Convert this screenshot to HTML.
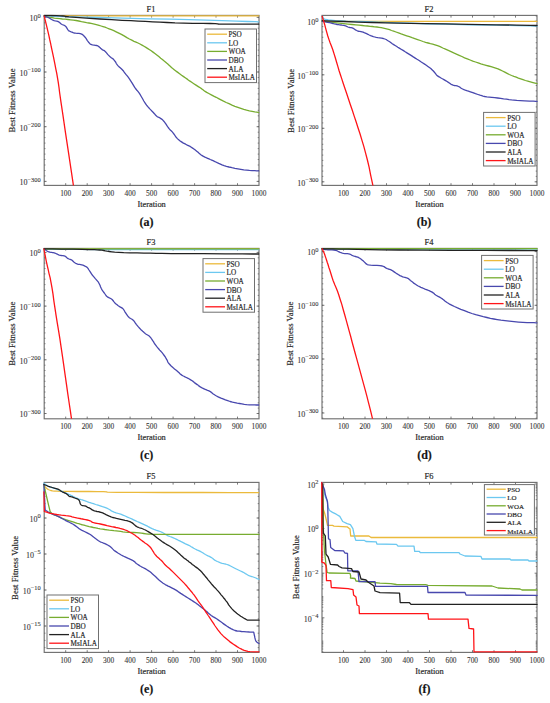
<!DOCTYPE html>
<html><head><meta charset="utf-8"><style>
html,body{margin:0;padding:0;background:#fff;}
svg{display:block;font-family:"Liberation Serif", serif;}
text{stroke:#333;stroke-width:0.18px;}
</style></head><body>
<svg width="550" height="703" viewBox="0 0 550 703">
<rect width="550" height="703" fill="#fff"/>
<defs>
<clipPath id="c00"><rect x="43.2" y="14.4" width="216.8" height="171.0"/></clipPath>
<clipPath id="c10"><rect x="43.2" y="247.4" width="216.8" height="171.4"/></clipPath>
<clipPath id="c20"><rect x="43.2" y="481.4" width="216.8" height="171.0"/></clipPath>
<clipPath id="c01"><rect x="321.0" y="14.4" width="217.0" height="171.0"/></clipPath>
<clipPath id="c11"><rect x="321.0" y="247.4" width="217.0" height="171.4"/></clipPath>
<clipPath id="c21"><rect x="321.0" y="481.4" width="217.0" height="171.0"/></clipPath>
</defs>
<rect x="44.2" y="15.4" width="214.80" height="170.00" fill="none" stroke="#707070" stroke-width="1.15"/>
<line x1="65.7" y1="185.4" x2="65.7" y2="183.2" stroke="#5a5a5a" stroke-width="0.8"/>
<line x1="65.7" y1="15.4" x2="65.7" y2="17.6" stroke="#5a5a5a" stroke-width="0.8"/>
<line x1="87.2" y1="185.4" x2="87.2" y2="183.2" stroke="#5a5a5a" stroke-width="0.8"/>
<line x1="87.2" y1="15.4" x2="87.2" y2="17.6" stroke="#5a5a5a" stroke-width="0.8"/>
<line x1="108.6" y1="185.4" x2="108.6" y2="183.2" stroke="#5a5a5a" stroke-width="0.8"/>
<line x1="108.6" y1="15.4" x2="108.6" y2="17.6" stroke="#5a5a5a" stroke-width="0.8"/>
<line x1="130.1" y1="185.4" x2="130.1" y2="183.2" stroke="#5a5a5a" stroke-width="0.8"/>
<line x1="130.1" y1="15.4" x2="130.1" y2="17.6" stroke="#5a5a5a" stroke-width="0.8"/>
<line x1="151.6" y1="185.4" x2="151.6" y2="183.2" stroke="#5a5a5a" stroke-width="0.8"/>
<line x1="151.6" y1="15.4" x2="151.6" y2="17.6" stroke="#5a5a5a" stroke-width="0.8"/>
<line x1="173.1" y1="185.4" x2="173.1" y2="183.2" stroke="#5a5a5a" stroke-width="0.8"/>
<line x1="173.1" y1="15.4" x2="173.1" y2="17.6" stroke="#5a5a5a" stroke-width="0.8"/>
<line x1="194.6" y1="185.4" x2="194.6" y2="183.2" stroke="#5a5a5a" stroke-width="0.8"/>
<line x1="194.6" y1="15.4" x2="194.6" y2="17.6" stroke="#5a5a5a" stroke-width="0.8"/>
<line x1="216.0" y1="185.4" x2="216.0" y2="183.2" stroke="#5a5a5a" stroke-width="0.8"/>
<line x1="216.0" y1="15.4" x2="216.0" y2="17.6" stroke="#5a5a5a" stroke-width="0.8"/>
<line x1="237.5" y1="185.4" x2="237.5" y2="183.2" stroke="#5a5a5a" stroke-width="0.8"/>
<line x1="237.5" y1="15.4" x2="237.5" y2="17.6" stroke="#5a5a5a" stroke-width="0.8"/>
<text x="65.7" y="195.6" font-size="7.4" text-anchor="middle" font-weight="normal" fill="#3a3a3a" style="stroke-width:0.1px">100</text>
<text x="87.2" y="195.6" font-size="7.4" text-anchor="middle" font-weight="normal" fill="#3a3a3a" style="stroke-width:0.1px">200</text>
<text x="108.6" y="195.6" font-size="7.4" text-anchor="middle" font-weight="normal" fill="#3a3a3a" style="stroke-width:0.1px">300</text>
<text x="130.1" y="195.6" font-size="7.4" text-anchor="middle" font-weight="normal" fill="#3a3a3a" style="stroke-width:0.1px">400</text>
<text x="151.6" y="195.6" font-size="7.4" text-anchor="middle" font-weight="normal" fill="#3a3a3a" style="stroke-width:0.1px">500</text>
<text x="173.1" y="195.6" font-size="7.4" text-anchor="middle" font-weight="normal" fill="#3a3a3a" style="stroke-width:0.1px">600</text>
<text x="194.6" y="195.6" font-size="7.4" text-anchor="middle" font-weight="normal" fill="#3a3a3a" style="stroke-width:0.1px">700</text>
<text x="216.0" y="195.6" font-size="7.4" text-anchor="middle" font-weight="normal" fill="#3a3a3a" style="stroke-width:0.1px">800</text>
<text x="237.5" y="195.6" font-size="7.4" text-anchor="middle" font-weight="normal" fill="#3a3a3a" style="stroke-width:0.1px">900</text>
<text x="259.0" y="195.6" font-size="7.4" text-anchor="middle" font-weight="normal" fill="#3a3a3a" style="stroke-width:0.1px">1000</text>
<text x="151.6" y="206.6" font-size="8.4" text-anchor="middle" font-weight="normal" fill="#222" >Iteration</text>
<text x="151.0" y="12.0" font-size="8.4" text-anchor="middle" font-weight="normal" fill="#222" >F1</text>
<text x="146.6" y="225.8" font-size="12" text-anchor="middle" font-weight="bold" fill="#111" >(a)</text>
<line x1="44.2" y1="17.3" x2="45.5" y2="17.3" stroke="#5a5a5a" stroke-width="0.7"/>
<line x1="259.0" y1="17.3" x2="257.7" y2="17.3" stroke="#5a5a5a" stroke-width="0.7"/>
<line x1="44.2" y1="22.8" x2="45.5" y2="22.8" stroke="#5a5a5a" stroke-width="0.7"/>
<line x1="259.0" y1="22.8" x2="257.7" y2="22.8" stroke="#5a5a5a" stroke-width="0.7"/>
<line x1="44.2" y1="28.2" x2="45.5" y2="28.2" stroke="#5a5a5a" stroke-width="0.7"/>
<line x1="259.0" y1="28.2" x2="257.7" y2="28.2" stroke="#5a5a5a" stroke-width="0.7"/>
<line x1="44.2" y1="33.7" x2="45.5" y2="33.7" stroke="#5a5a5a" stroke-width="0.7"/>
<line x1="259.0" y1="33.7" x2="257.7" y2="33.7" stroke="#5a5a5a" stroke-width="0.7"/>
<line x1="44.2" y1="39.2" x2="45.5" y2="39.2" stroke="#5a5a5a" stroke-width="0.7"/>
<line x1="259.0" y1="39.2" x2="257.7" y2="39.2" stroke="#5a5a5a" stroke-width="0.7"/>
<line x1="44.2" y1="44.6" x2="45.5" y2="44.6" stroke="#5a5a5a" stroke-width="0.7"/>
<line x1="259.0" y1="44.6" x2="257.7" y2="44.6" stroke="#5a5a5a" stroke-width="0.7"/>
<line x1="44.2" y1="50.1" x2="45.5" y2="50.1" stroke="#5a5a5a" stroke-width="0.7"/>
<line x1="259.0" y1="50.1" x2="257.7" y2="50.1" stroke="#5a5a5a" stroke-width="0.7"/>
<line x1="44.2" y1="55.6" x2="45.5" y2="55.6" stroke="#5a5a5a" stroke-width="0.7"/>
<line x1="259.0" y1="55.6" x2="257.7" y2="55.6" stroke="#5a5a5a" stroke-width="0.7"/>
<line x1="44.2" y1="61.1" x2="45.5" y2="61.1" stroke="#5a5a5a" stroke-width="0.7"/>
<line x1="259.0" y1="61.1" x2="257.7" y2="61.1" stroke="#5a5a5a" stroke-width="0.7"/>
<line x1="44.2" y1="66.5" x2="45.5" y2="66.5" stroke="#5a5a5a" stroke-width="0.7"/>
<line x1="259.0" y1="66.5" x2="257.7" y2="66.5" stroke="#5a5a5a" stroke-width="0.7"/>
<line x1="44.2" y1="72.0" x2="45.5" y2="72.0" stroke="#5a5a5a" stroke-width="0.7"/>
<line x1="259.0" y1="72.0" x2="257.7" y2="72.0" stroke="#5a5a5a" stroke-width="0.7"/>
<line x1="44.2" y1="77.5" x2="45.5" y2="77.5" stroke="#5a5a5a" stroke-width="0.7"/>
<line x1="259.0" y1="77.5" x2="257.7" y2="77.5" stroke="#5a5a5a" stroke-width="0.7"/>
<line x1="44.2" y1="82.9" x2="45.5" y2="82.9" stroke="#5a5a5a" stroke-width="0.7"/>
<line x1="259.0" y1="82.9" x2="257.7" y2="82.9" stroke="#5a5a5a" stroke-width="0.7"/>
<line x1="44.2" y1="88.4" x2="45.5" y2="88.4" stroke="#5a5a5a" stroke-width="0.7"/>
<line x1="259.0" y1="88.4" x2="257.7" y2="88.4" stroke="#5a5a5a" stroke-width="0.7"/>
<line x1="44.2" y1="93.9" x2="45.5" y2="93.9" stroke="#5a5a5a" stroke-width="0.7"/>
<line x1="259.0" y1="93.9" x2="257.7" y2="93.9" stroke="#5a5a5a" stroke-width="0.7"/>
<line x1="44.2" y1="99.3" x2="45.5" y2="99.3" stroke="#5a5a5a" stroke-width="0.7"/>
<line x1="259.0" y1="99.3" x2="257.7" y2="99.3" stroke="#5a5a5a" stroke-width="0.7"/>
<line x1="44.2" y1="104.8" x2="45.5" y2="104.8" stroke="#5a5a5a" stroke-width="0.7"/>
<line x1="259.0" y1="104.8" x2="257.7" y2="104.8" stroke="#5a5a5a" stroke-width="0.7"/>
<line x1="44.2" y1="110.3" x2="45.5" y2="110.3" stroke="#5a5a5a" stroke-width="0.7"/>
<line x1="259.0" y1="110.3" x2="257.7" y2="110.3" stroke="#5a5a5a" stroke-width="0.7"/>
<line x1="44.2" y1="115.8" x2="45.5" y2="115.8" stroke="#5a5a5a" stroke-width="0.7"/>
<line x1="259.0" y1="115.8" x2="257.7" y2="115.8" stroke="#5a5a5a" stroke-width="0.7"/>
<line x1="44.2" y1="121.2" x2="45.5" y2="121.2" stroke="#5a5a5a" stroke-width="0.7"/>
<line x1="259.0" y1="121.2" x2="257.7" y2="121.2" stroke="#5a5a5a" stroke-width="0.7"/>
<line x1="44.2" y1="126.7" x2="45.5" y2="126.7" stroke="#5a5a5a" stroke-width="0.7"/>
<line x1="259.0" y1="126.7" x2="257.7" y2="126.7" stroke="#5a5a5a" stroke-width="0.7"/>
<line x1="44.2" y1="132.2" x2="45.5" y2="132.2" stroke="#5a5a5a" stroke-width="0.7"/>
<line x1="259.0" y1="132.2" x2="257.7" y2="132.2" stroke="#5a5a5a" stroke-width="0.7"/>
<line x1="44.2" y1="137.6" x2="45.5" y2="137.6" stroke="#5a5a5a" stroke-width="0.7"/>
<line x1="259.0" y1="137.6" x2="257.7" y2="137.6" stroke="#5a5a5a" stroke-width="0.7"/>
<line x1="44.2" y1="143.1" x2="45.5" y2="143.1" stroke="#5a5a5a" stroke-width="0.7"/>
<line x1="259.0" y1="143.1" x2="257.7" y2="143.1" stroke="#5a5a5a" stroke-width="0.7"/>
<line x1="44.2" y1="148.6" x2="45.5" y2="148.6" stroke="#5a5a5a" stroke-width="0.7"/>
<line x1="259.0" y1="148.6" x2="257.7" y2="148.6" stroke="#5a5a5a" stroke-width="0.7"/>
<line x1="44.2" y1="154.1" x2="45.5" y2="154.1" stroke="#5a5a5a" stroke-width="0.7"/>
<line x1="259.0" y1="154.1" x2="257.7" y2="154.1" stroke="#5a5a5a" stroke-width="0.7"/>
<line x1="44.2" y1="159.5" x2="45.5" y2="159.5" stroke="#5a5a5a" stroke-width="0.7"/>
<line x1="259.0" y1="159.5" x2="257.7" y2="159.5" stroke="#5a5a5a" stroke-width="0.7"/>
<line x1="44.2" y1="165.0" x2="45.5" y2="165.0" stroke="#5a5a5a" stroke-width="0.7"/>
<line x1="259.0" y1="165.0" x2="257.7" y2="165.0" stroke="#5a5a5a" stroke-width="0.7"/>
<line x1="44.2" y1="170.5" x2="45.5" y2="170.5" stroke="#5a5a5a" stroke-width="0.7"/>
<line x1="259.0" y1="170.5" x2="257.7" y2="170.5" stroke="#5a5a5a" stroke-width="0.7"/>
<line x1="44.2" y1="175.9" x2="45.5" y2="175.9" stroke="#5a5a5a" stroke-width="0.7"/>
<line x1="259.0" y1="175.9" x2="257.7" y2="175.9" stroke="#5a5a5a" stroke-width="0.7"/>
<line x1="44.2" y1="181.4" x2="45.5" y2="181.4" stroke="#5a5a5a" stroke-width="0.7"/>
<line x1="259.0" y1="181.4" x2="257.7" y2="181.4" stroke="#5a5a5a" stroke-width="0.7"/>
<line x1="44.2" y1="17.3" x2="46.6" y2="17.3" stroke="#5a5a5a" stroke-width="0.8"/>
<line x1="259.0" y1="17.3" x2="256.6" y2="17.3" stroke="#5a5a5a" stroke-width="0.8"/>
<text x="40.7" y="21.1" font-size="8" text-anchor="end" fill="#3a3a3a" style="stroke-width:0.1px">10<tspan font-size="6.4" dy="-3.4">0</tspan></text>
<line x1="44.2" y1="72.0" x2="46.6" y2="72.0" stroke="#5a5a5a" stroke-width="0.8"/>
<line x1="259.0" y1="72.0" x2="256.6" y2="72.0" stroke="#5a5a5a" stroke-width="0.8"/>
<text x="40.7" y="75.8" font-size="8" text-anchor="end" fill="#3a3a3a" style="stroke-width:0.1px">10<tspan font-size="6.4" dy="-3.4">−100</tspan></text>
<line x1="44.2" y1="126.7" x2="46.6" y2="126.7" stroke="#5a5a5a" stroke-width="0.8"/>
<line x1="259.0" y1="126.7" x2="256.6" y2="126.7" stroke="#5a5a5a" stroke-width="0.8"/>
<text x="40.7" y="130.5" font-size="8" text-anchor="end" fill="#3a3a3a" style="stroke-width:0.1px">10<tspan font-size="6.4" dy="-3.4">−200</tspan></text>
<line x1="44.2" y1="181.4" x2="46.6" y2="181.4" stroke="#5a5a5a" stroke-width="0.8"/>
<line x1="259.0" y1="181.4" x2="256.6" y2="181.4" stroke="#5a5a5a" stroke-width="0.8"/>
<text x="40.7" y="185.2" font-size="8" text-anchor="end" fill="#3a3a3a" style="stroke-width:0.1px">10<tspan font-size="6.4" dy="-3.4">−300</tspan></text>
<g clip-path="url(#c00)">
<polyline points="44.2,15.8 57.6,15.8 84.4,15.8 124.6,15.8 178.3,15.8 218.5,15.8 245.3,15.8 258.7,15.8" fill="none" stroke="#EBBA3C" stroke-width="1.3" stroke-linejoin="round" stroke-linecap="round"/>
<polyline points="44.2,16.0 45.4,16.0 47.9,16.1 51.5,16.2 56.5,16.4 63.6,16.6 73.1,16.8 84.9,17.1 98.9,17.5 114.5,17.9 131.5,18.3 150.0,18.8 170.0,19.2 188.7,19.7 206.0,20.2 222.0,20.7 236.7,21.1 247.7,21.5 255.0,21.7 258.7,21.8" fill="none" stroke="#6CC8F0" stroke-width="1.3" stroke-linejoin="round" stroke-linecap="round"/>
<polyline points="44.2,16.1 44.7,16.2 45.8,16.5 47.5,16.8 49.6,17.3 51.9,17.7 54.4,18.1 57.0,18.4 59.7,18.7 62.4,19.0 65.2,19.2 67.9,19.5 70.6,19.8 73.3,20.1 76.1,20.5 78.8,21.0 81.5,21.6 84.1,22.1 86.6,22.6 88.9,23.0 91.1,23.4 93.2,23.8 95.3,24.3 97.2,24.8 99.1,25.4 101.1,26.0 103.0,26.6 105.0,27.2 107.0,28.0 109.1,28.8 111.4,29.7 113.8,30.7 116.2,31.8 118.8,33.1 121.4,34.4 124.1,35.9 126.9,37.6 129.4,39.0 131.8,40.2 134.0,41.3 136.0,42.1 138.0,43.0 140.0,44.0 142.0,45.1 144.0,46.3 145.9,47.4 147.8,48.6 149.6,49.7 151.2,50.8 153.0,52.1 154.9,53.5 156.8,55.0 158.8,56.6 160.7,58.2 162.4,59.5 163.9,60.8 165.4,62.0 166.6,63.1 167.8,64.1 168.8,65.0 169.7,65.8 170.7,66.7 171.8,67.7 173.1,68.8 174.5,69.9 176.0,71.1 177.8,72.4 179.6,73.7 181.6,75.2 183.6,76.6 185.6,78.0 187.6,79.4 189.6,80.9 191.7,82.3 193.8,83.7 196.0,85.1 198.3,86.6 200.2,87.8 201.8,88.9 203.0,89.8 203.8,90.5 205.1,91.4 206.7,92.4 208.8,93.5 211.3,94.8 213.7,96.1 216.2,97.3 218.6,98.6 221.0,99.9 223.5,101.2 226.2,102.5 229.0,103.7 232.0,105.1 234.9,106.3 237.9,107.4 240.8,108.4 243.8,109.4 246.6,110.2 249.4,110.9 252.1,111.4 254.8,111.9 256.7,112.2 258.0,112.4 258.7,112.5" fill="none" stroke="#77AC30" stroke-width="1.3" stroke-linejoin="round" stroke-linecap="round"/>
<polyline points="44.2,16.1 44.5,16.2 45.0,16.4 45.8,16.6 46.9,17.0 48.0,17.4 49.2,18.0 50.4,18.7 51.6,19.5 52.9,20.1 54.1,20.6 55.3,20.9 56.6,21.1 57.7,21.4 58.7,21.9 59.6,22.5 60.4,23.3 61.2,24.0 62.1,24.5 63.1,24.9 64.0,25.2 64.9,25.7 65.8,26.5 66.5,27.4 67.2,28.7 67.8,29.6 68.4,30.4 69.0,30.9 69.6,31.2 70.3,31.5 71.1,31.9 72.0,32.2 73.1,32.7 74.3,33.0 75.7,33.2 77.2,33.3 78.8,33.3 80.3,33.6 81.7,34.1 82.9,34.9 84.0,36.0 85.1,37.2 86.2,38.7 87.2,40.3 88.4,42.0 89.6,43.4 90.9,44.4 92.4,44.9 94.1,45.1 95.4,45.3 96.5,45.5 97.3,45.7 97.9,46.0 98.5,46.4 99.2,46.9 99.9,47.6 100.8,48.4 101.6,49.1 102.3,49.6 103.1,50.1 103.7,50.3 104.6,50.9 105.5,51.8 106.5,52.9 107.7,54.4 108.9,55.6 110.1,56.8 111.3,57.8 112.6,58.6 113.7,59.6 114.7,60.8 115.6,62.0 116.3,63.5 117.1,64.7 118.1,65.9 119.1,66.9 120.2,67.7 121.3,68.7 122.3,69.7 123.2,70.7 124.0,71.9 124.9,73.1 125.9,74.4 127.0,75.7 128.2,77.2 129.4,78.8 130.7,80.8 132.0,82.9 133.5,85.4 134.7,87.4 135.9,89.0 136.9,90.3 137.7,91.1 138.7,92.4 139.9,94.1 141.1,96.2 142.6,98.8 143.8,101.0 145.0,102.8 146.0,104.3 146.8,105.5 147.8,106.6 148.8,107.8 149.8,108.9 151.0,110.1 152.1,111.3 153.3,112.5 154.4,113.7 155.5,115.0 156.5,116.0 157.4,116.7 158.2,117.2 158.9,117.4 159.8,117.8 160.6,118.4 161.6,119.1 162.8,120.1 163.8,121.2 164.9,122.6 166.0,124.2 167.1,125.9 168.2,127.5 169.3,128.9 170.3,130.1 171.4,131.0 172.5,132.1 173.4,133.3 174.3,134.5 175.2,135.9 176.1,137.2 177.2,138.4 178.4,139.6 179.8,140.7 181.1,141.6 182.3,142.4 183.4,143.1 184.6,143.7 185.6,144.2 186.7,144.8 187.8,145.3 188.9,145.8 190.0,146.4 191.3,147.2 192.6,148.1 193.9,149.0 195.3,150.1 196.7,151.2 198.1,152.3 199.4,153.6 200.8,154.7 202.2,155.6 203.5,156.4 204.9,157.1 206.2,157.7 207.6,158.3 209.0,158.9 210.3,159.5 211.7,160.1 213.1,160.7 214.4,161.3 215.8,162.0 217.2,162.7 218.7,163.4 220.4,164.1 222.0,164.9 224.1,165.6 226.4,166.3 229.0,167.0 232.0,167.7 234.9,168.3 237.9,168.8 240.8,169.3 243.8,169.8 246.6,170.1 249.4,170.4 252.1,170.6 254.8,170.7 256.7,170.8 258.0,170.9 258.7,170.9" fill="none" stroke="#4848AE" stroke-width="1.3" stroke-linejoin="round" stroke-linecap="round"/>
<polyline points="44.2,15.3 45.4,15.3 47.9,15.4 51.5,15.5 56.5,15.6 60.3,15.8 63.0,16.0 64.6,16.2 65.2,16.5 69.0,16.9 76.0,17.4 86.2,18.1 99.8,19.0 111.7,19.7 122.1,20.3 130.9,20.7 138.1,21.1 145.4,21.4 152.6,21.8 159.9,22.2 167.1,22.5 175.0,22.9 183.6,23.1 192.8,23.3 202.7,23.4 210.2,23.5 215.2,23.7 217.9,23.8 218.1,24.0 220.8,24.1 226.0,24.2 233.6,24.2 243.6,24.2 251.2,24.2 256.2,24.2 258.7,24.2" fill="none" stroke="#222222" stroke-width="1.3" stroke-linejoin="round" stroke-linecap="round"/>
<polyline points="44.2,16.1 44.5,17.2 45.0,19.4 45.8,22.7 46.9,27.2 47.9,31.4 48.9,35.6 49.7,39.5 50.6,43.4 51.3,47.0 52.1,50.6 52.8,53.9 53.5,57.2 54.2,60.7 55.0,64.6 55.8,68.8 56.7,73.2 57.5,77.9 58.3,82.6 59.0,87.5 59.6,92.5 60.9,101.6 62.9,114.9 65.4,132.2 68.7,153.8 71.1,169.9 72.7,180.6 73.5,186.0" fill="none" stroke="#FF1418" stroke-width="1.3" stroke-linejoin="round" stroke-linecap="round"/>
</g>
<rect x="205" y="29" width="51.5" height="53.6" fill="#fff" stroke="#707070" stroke-width="1.0"/>
<line x1="207.2" y1="34.2" x2="227.0" y2="34.2" stroke="#EBBA3C" stroke-width="1.3"/>
<text x="228.6" y="37.1" font-size="7.2" fill="#222">PSO</text>
<line x1="207.2" y1="42.8" x2="227.0" y2="42.8" stroke="#6CC8F0" stroke-width="1.3"/>
<text x="228.6" y="45.7" font-size="7.2" fill="#222">LO</text>
<line x1="207.2" y1="51.4" x2="227.0" y2="51.4" stroke="#77AC30" stroke-width="1.3"/>
<text x="228.6" y="54.3" font-size="7.2" fill="#222">WOA</text>
<line x1="207.2" y1="60.0" x2="227.0" y2="60.0" stroke="#4848AE" stroke-width="1.3"/>
<text x="228.6" y="62.9" font-size="7.2" fill="#222">DBO</text>
<line x1="207.2" y1="68.6" x2="227.0" y2="68.6" stroke="#222222" stroke-width="1.3"/>
<text x="228.6" y="71.5" font-size="7.2" fill="#222">ALA</text>
<line x1="207.2" y1="77.2" x2="227.0" y2="77.2" stroke="#FF1418" stroke-width="1.3"/>
<text x="228.6" y="80.1" font-size="7.2" fill="#222">MsIALA</text>
<text transform="translate(14.9,100.5) rotate(-90)" font-size="8.7" text-anchor="middle" fill="#222">Best Fitness Value</text>
<rect x="322.0" y="15.4" width="215.00" height="170.00" fill="none" stroke="#707070" stroke-width="1.15"/>
<line x1="343.5" y1="185.4" x2="343.5" y2="183.2" stroke="#5a5a5a" stroke-width="0.8"/>
<line x1="343.5" y1="15.4" x2="343.5" y2="17.6" stroke="#5a5a5a" stroke-width="0.8"/>
<line x1="365.0" y1="185.4" x2="365.0" y2="183.2" stroke="#5a5a5a" stroke-width="0.8"/>
<line x1="365.0" y1="15.4" x2="365.0" y2="17.6" stroke="#5a5a5a" stroke-width="0.8"/>
<line x1="386.5" y1="185.4" x2="386.5" y2="183.2" stroke="#5a5a5a" stroke-width="0.8"/>
<line x1="386.5" y1="15.4" x2="386.5" y2="17.6" stroke="#5a5a5a" stroke-width="0.8"/>
<line x1="408.0" y1="185.4" x2="408.0" y2="183.2" stroke="#5a5a5a" stroke-width="0.8"/>
<line x1="408.0" y1="15.4" x2="408.0" y2="17.6" stroke="#5a5a5a" stroke-width="0.8"/>
<line x1="429.5" y1="185.4" x2="429.5" y2="183.2" stroke="#5a5a5a" stroke-width="0.8"/>
<line x1="429.5" y1="15.4" x2="429.5" y2="17.6" stroke="#5a5a5a" stroke-width="0.8"/>
<line x1="451.0" y1="185.4" x2="451.0" y2="183.2" stroke="#5a5a5a" stroke-width="0.8"/>
<line x1="451.0" y1="15.4" x2="451.0" y2="17.6" stroke="#5a5a5a" stroke-width="0.8"/>
<line x1="472.5" y1="185.4" x2="472.5" y2="183.2" stroke="#5a5a5a" stroke-width="0.8"/>
<line x1="472.5" y1="15.4" x2="472.5" y2="17.6" stroke="#5a5a5a" stroke-width="0.8"/>
<line x1="494.0" y1="185.4" x2="494.0" y2="183.2" stroke="#5a5a5a" stroke-width="0.8"/>
<line x1="494.0" y1="15.4" x2="494.0" y2="17.6" stroke="#5a5a5a" stroke-width="0.8"/>
<line x1="515.5" y1="185.4" x2="515.5" y2="183.2" stroke="#5a5a5a" stroke-width="0.8"/>
<line x1="515.5" y1="15.4" x2="515.5" y2="17.6" stroke="#5a5a5a" stroke-width="0.8"/>
<text x="343.5" y="195.6" font-size="7.4" text-anchor="middle" font-weight="normal" fill="#3a3a3a" style="stroke-width:0.1px">100</text>
<text x="365.0" y="195.6" font-size="7.4" text-anchor="middle" font-weight="normal" fill="#3a3a3a" style="stroke-width:0.1px">200</text>
<text x="386.5" y="195.6" font-size="7.4" text-anchor="middle" font-weight="normal" fill="#3a3a3a" style="stroke-width:0.1px">300</text>
<text x="408.0" y="195.6" font-size="7.4" text-anchor="middle" font-weight="normal" fill="#3a3a3a" style="stroke-width:0.1px">400</text>
<text x="429.5" y="195.6" font-size="7.4" text-anchor="middle" font-weight="normal" fill="#3a3a3a" style="stroke-width:0.1px">500</text>
<text x="451.0" y="195.6" font-size="7.4" text-anchor="middle" font-weight="normal" fill="#3a3a3a" style="stroke-width:0.1px">600</text>
<text x="472.5" y="195.6" font-size="7.4" text-anchor="middle" font-weight="normal" fill="#3a3a3a" style="stroke-width:0.1px">700</text>
<text x="494.0" y="195.6" font-size="7.4" text-anchor="middle" font-weight="normal" fill="#3a3a3a" style="stroke-width:0.1px">800</text>
<text x="515.5" y="195.6" font-size="7.4" text-anchor="middle" font-weight="normal" fill="#3a3a3a" style="stroke-width:0.1px">900</text>
<text x="537.0" y="195.6" font-size="7.4" text-anchor="middle" font-weight="normal" fill="#3a3a3a" style="stroke-width:0.1px">1000</text>
<text x="429.5" y="206.6" font-size="8.4" text-anchor="middle" font-weight="normal" fill="#222" >Iteration</text>
<text x="428.9" y="12.0" font-size="8.4" text-anchor="middle" font-weight="normal" fill="#222" >F2</text>
<text x="424.0" y="225.8" font-size="12" text-anchor="middle" font-weight="bold" fill="#111" >(b)</text>
<line x1="322.0" y1="16.0" x2="323.3" y2="16.0" stroke="#5a5a5a" stroke-width="0.7"/>
<line x1="537.0" y1="16.0" x2="535.7" y2="16.0" stroke="#5a5a5a" stroke-width="0.7"/>
<line x1="322.0" y1="21.3" x2="323.3" y2="21.3" stroke="#5a5a5a" stroke-width="0.7"/>
<line x1="537.0" y1="21.3" x2="535.7" y2="21.3" stroke="#5a5a5a" stroke-width="0.7"/>
<line x1="322.0" y1="26.6" x2="323.3" y2="26.6" stroke="#5a5a5a" stroke-width="0.7"/>
<line x1="537.0" y1="26.6" x2="535.7" y2="26.6" stroke="#5a5a5a" stroke-width="0.7"/>
<line x1="322.0" y1="32.0" x2="323.3" y2="32.0" stroke="#5a5a5a" stroke-width="0.7"/>
<line x1="537.0" y1="32.0" x2="535.7" y2="32.0" stroke="#5a5a5a" stroke-width="0.7"/>
<line x1="322.0" y1="37.3" x2="323.3" y2="37.3" stroke="#5a5a5a" stroke-width="0.7"/>
<line x1="537.0" y1="37.3" x2="535.7" y2="37.3" stroke="#5a5a5a" stroke-width="0.7"/>
<line x1="322.0" y1="42.7" x2="323.3" y2="42.7" stroke="#5a5a5a" stroke-width="0.7"/>
<line x1="537.0" y1="42.7" x2="535.7" y2="42.7" stroke="#5a5a5a" stroke-width="0.7"/>
<line x1="322.0" y1="48.0" x2="323.3" y2="48.0" stroke="#5a5a5a" stroke-width="0.7"/>
<line x1="537.0" y1="48.0" x2="535.7" y2="48.0" stroke="#5a5a5a" stroke-width="0.7"/>
<line x1="322.0" y1="53.4" x2="323.3" y2="53.4" stroke="#5a5a5a" stroke-width="0.7"/>
<line x1="537.0" y1="53.4" x2="535.7" y2="53.4" stroke="#5a5a5a" stroke-width="0.7"/>
<line x1="322.0" y1="58.8" x2="323.3" y2="58.8" stroke="#5a5a5a" stroke-width="0.7"/>
<line x1="537.0" y1="58.8" x2="535.7" y2="58.8" stroke="#5a5a5a" stroke-width="0.7"/>
<line x1="322.0" y1="64.1" x2="323.3" y2="64.1" stroke="#5a5a5a" stroke-width="0.7"/>
<line x1="537.0" y1="64.1" x2="535.7" y2="64.1" stroke="#5a5a5a" stroke-width="0.7"/>
<line x1="322.0" y1="69.5" x2="323.3" y2="69.5" stroke="#5a5a5a" stroke-width="0.7"/>
<line x1="537.0" y1="69.5" x2="535.7" y2="69.5" stroke="#5a5a5a" stroke-width="0.7"/>
<line x1="322.0" y1="74.8" x2="323.3" y2="74.8" stroke="#5a5a5a" stroke-width="0.7"/>
<line x1="537.0" y1="74.8" x2="535.7" y2="74.8" stroke="#5a5a5a" stroke-width="0.7"/>
<line x1="322.0" y1="80.1" x2="323.3" y2="80.1" stroke="#5a5a5a" stroke-width="0.7"/>
<line x1="537.0" y1="80.1" x2="535.7" y2="80.1" stroke="#5a5a5a" stroke-width="0.7"/>
<line x1="322.0" y1="85.5" x2="323.3" y2="85.5" stroke="#5a5a5a" stroke-width="0.7"/>
<line x1="537.0" y1="85.5" x2="535.7" y2="85.5" stroke="#5a5a5a" stroke-width="0.7"/>
<line x1="322.0" y1="90.8" x2="323.3" y2="90.8" stroke="#5a5a5a" stroke-width="0.7"/>
<line x1="537.0" y1="90.8" x2="535.7" y2="90.8" stroke="#5a5a5a" stroke-width="0.7"/>
<line x1="322.0" y1="96.2" x2="323.3" y2="96.2" stroke="#5a5a5a" stroke-width="0.7"/>
<line x1="537.0" y1="96.2" x2="535.7" y2="96.2" stroke="#5a5a5a" stroke-width="0.7"/>
<line x1="322.0" y1="101.5" x2="323.3" y2="101.5" stroke="#5a5a5a" stroke-width="0.7"/>
<line x1="537.0" y1="101.5" x2="535.7" y2="101.5" stroke="#5a5a5a" stroke-width="0.7"/>
<line x1="322.0" y1="106.9" x2="323.3" y2="106.9" stroke="#5a5a5a" stroke-width="0.7"/>
<line x1="537.0" y1="106.9" x2="535.7" y2="106.9" stroke="#5a5a5a" stroke-width="0.7"/>
<line x1="322.0" y1="112.2" x2="323.3" y2="112.2" stroke="#5a5a5a" stroke-width="0.7"/>
<line x1="537.0" y1="112.2" x2="535.7" y2="112.2" stroke="#5a5a5a" stroke-width="0.7"/>
<line x1="322.0" y1="117.6" x2="323.3" y2="117.6" stroke="#5a5a5a" stroke-width="0.7"/>
<line x1="537.0" y1="117.6" x2="535.7" y2="117.6" stroke="#5a5a5a" stroke-width="0.7"/>
<line x1="322.0" y1="122.9" x2="323.3" y2="122.9" stroke="#5a5a5a" stroke-width="0.7"/>
<line x1="537.0" y1="122.9" x2="535.7" y2="122.9" stroke="#5a5a5a" stroke-width="0.7"/>
<line x1="322.0" y1="128.3" x2="323.3" y2="128.3" stroke="#5a5a5a" stroke-width="0.7"/>
<line x1="537.0" y1="128.3" x2="535.7" y2="128.3" stroke="#5a5a5a" stroke-width="0.7"/>
<line x1="322.0" y1="133.7" x2="323.3" y2="133.7" stroke="#5a5a5a" stroke-width="0.7"/>
<line x1="537.0" y1="133.7" x2="535.7" y2="133.7" stroke="#5a5a5a" stroke-width="0.7"/>
<line x1="322.0" y1="139.0" x2="323.3" y2="139.0" stroke="#5a5a5a" stroke-width="0.7"/>
<line x1="537.0" y1="139.0" x2="535.7" y2="139.0" stroke="#5a5a5a" stroke-width="0.7"/>
<line x1="322.0" y1="144.3" x2="323.3" y2="144.3" stroke="#5a5a5a" stroke-width="0.7"/>
<line x1="537.0" y1="144.3" x2="535.7" y2="144.3" stroke="#5a5a5a" stroke-width="0.7"/>
<line x1="322.0" y1="149.7" x2="323.3" y2="149.7" stroke="#5a5a5a" stroke-width="0.7"/>
<line x1="537.0" y1="149.7" x2="535.7" y2="149.7" stroke="#5a5a5a" stroke-width="0.7"/>
<line x1="322.0" y1="155.1" x2="323.3" y2="155.1" stroke="#5a5a5a" stroke-width="0.7"/>
<line x1="537.0" y1="155.1" x2="535.7" y2="155.1" stroke="#5a5a5a" stroke-width="0.7"/>
<line x1="322.0" y1="160.4" x2="323.3" y2="160.4" stroke="#5a5a5a" stroke-width="0.7"/>
<line x1="537.0" y1="160.4" x2="535.7" y2="160.4" stroke="#5a5a5a" stroke-width="0.7"/>
<line x1="322.0" y1="165.8" x2="323.3" y2="165.8" stroke="#5a5a5a" stroke-width="0.7"/>
<line x1="537.0" y1="165.8" x2="535.7" y2="165.8" stroke="#5a5a5a" stroke-width="0.7"/>
<line x1="322.0" y1="171.1" x2="323.3" y2="171.1" stroke="#5a5a5a" stroke-width="0.7"/>
<line x1="537.0" y1="171.1" x2="535.7" y2="171.1" stroke="#5a5a5a" stroke-width="0.7"/>
<line x1="322.0" y1="176.4" x2="323.3" y2="176.4" stroke="#5a5a5a" stroke-width="0.7"/>
<line x1="537.0" y1="176.4" x2="535.7" y2="176.4" stroke="#5a5a5a" stroke-width="0.7"/>
<line x1="322.0" y1="181.8" x2="323.3" y2="181.8" stroke="#5a5a5a" stroke-width="0.7"/>
<line x1="537.0" y1="181.8" x2="535.7" y2="181.8" stroke="#5a5a5a" stroke-width="0.7"/>
<line x1="322.0" y1="21.3" x2="324.4" y2="21.3" stroke="#5a5a5a" stroke-width="0.8"/>
<line x1="537.0" y1="21.3" x2="534.6" y2="21.3" stroke="#5a5a5a" stroke-width="0.8"/>
<text x="318.5" y="25.1" font-size="8" text-anchor="end" fill="#3a3a3a" style="stroke-width:0.1px">10<tspan font-size="6.4" dy="-3.4">0</tspan></text>
<line x1="322.0" y1="74.8" x2="324.4" y2="74.8" stroke="#5a5a5a" stroke-width="0.8"/>
<line x1="537.0" y1="74.8" x2="534.6" y2="74.8" stroke="#5a5a5a" stroke-width="0.8"/>
<text x="318.5" y="78.6" font-size="8" text-anchor="end" fill="#3a3a3a" style="stroke-width:0.1px">10<tspan font-size="6.4" dy="-3.4">−100</tspan></text>
<line x1="322.0" y1="128.3" x2="324.4" y2="128.3" stroke="#5a5a5a" stroke-width="0.8"/>
<line x1="537.0" y1="128.3" x2="534.6" y2="128.3" stroke="#5a5a5a" stroke-width="0.8"/>
<text x="318.5" y="132.1" font-size="8" text-anchor="end" fill="#3a3a3a" style="stroke-width:0.1px">10<tspan font-size="6.4" dy="-3.4">−200</tspan></text>
<line x1="322.0" y1="181.8" x2="324.4" y2="181.8" stroke="#5a5a5a" stroke-width="0.8"/>
<line x1="537.0" y1="181.8" x2="534.6" y2="181.8" stroke="#5a5a5a" stroke-width="0.8"/>
<text x="318.5" y="185.6" font-size="8" text-anchor="end" fill="#3a3a3a" style="stroke-width:0.1px">10<tspan font-size="6.4" dy="-3.4">−300</tspan></text>
<g clip-path="url(#c01)">
<polyline points="322.0,21.3 335.4,21.3 362.3,21.3 402.6,21.3 456.4,21.3 496.7,21.3 523.6,21.3 537.0,21.3" fill="none" stroke="#EBBA3C" stroke-width="1.3" stroke-linejoin="round" stroke-linecap="round"/>
<polyline points="322.2,16.4 322.4,16.7 322.8,17.2 323.4,18.0 324.3,19.1 328.3,20.0 335.5,20.7 345.9,21.2 359.6,21.5 372.8,21.9 385.6,22.3 398.0,22.8 410.0,23.2 425.8,23.8 445.4,24.2 468.9,24.8 496.1,25.2 516.6,25.6 530.2,25.9 537.0,26.0" fill="none" stroke="#6CC8F0" stroke-width="1.3" stroke-linejoin="round" stroke-linecap="round"/>
<polyline points="322.2,21.3 323.4,21.4 325.9,21.7 329.6,22.1 334.4,22.7 339.2,23.2 343.7,23.7 347.9,24.1 352.1,24.5 355.8,24.9 359.2,25.2 362.3,25.5 365.0,25.8 367.6,26.0 370.1,26.3 372.4,26.5 374.7,26.8 376.9,27.0 379.1,27.3 381.3,27.7 383.4,28.1 385.5,28.6 387.6,29.1 389.6,29.7 391.5,30.5 393.6,31.2 396.0,32.0 398.5,32.9 401.2,33.9 403.9,34.8 406.7,35.8 409.4,36.7 412.1,37.7 414.8,38.6 417.6,39.6 420.3,40.5 423.0,41.5 425.6,42.3 428.1,43.0 430.4,43.6 432.7,44.1 435.0,44.8 437.5,45.7 440.1,46.7 442.8,48.0 445.5,49.2 448.3,50.4 451.0,51.6 453.7,52.9 456.4,54.1 459.2,55.3 461.9,56.5 464.6,57.8 467.3,58.9 470.1,60.0 472.8,61.1 475.5,62.0 478.2,62.9 480.9,63.8 483.5,64.6 486.1,65.3 488.6,66.0 491.1,66.7 493.4,67.4 495.7,68.1 498.0,68.9 500.2,69.9 502.5,71.0 504.8,72.2 507.1,73.4 509.3,74.5 511.6,75.5 513.9,76.4 516.2,77.2 518.4,78.1 520.7,78.9 523.0,79.7 525.4,80.5 527.8,81.2 530.4,81.9 533.0,82.6 535.0,83.1 536.3,83.4 537.0,83.6" fill="none" stroke="#77AC30" stroke-width="1.3" stroke-linejoin="round" stroke-linecap="round"/>
<polyline points="322.2,21.3 322.7,21.4 323.8,21.6 325.5,21.9 327.6,22.3 329.6,22.7 331.4,23.1 333.0,23.5 334.3,23.9 335.7,24.2 337.1,24.5 338.4,24.7 339.8,24.9 341.0,25.0 342.1,25.2 343.0,25.3 343.9,25.4 344.7,25.6 345.5,25.9 346.3,26.2 347.2,26.7 348.0,27.0 349.0,27.3 350.0,27.5 351.1,27.6 352.2,27.9 353.3,28.4 354.3,29.0 355.5,29.9 356.6,30.5 357.7,31.0 358.8,31.3 359.8,31.4 360.9,31.6 362.0,31.9 363.1,32.2 364.2,32.7 365.3,33.1 366.6,33.7 367.9,34.3 369.2,35.0 370.6,35.6 372.0,36.1 373.3,36.6 374.7,37.0 376.2,37.4 377.8,37.7 379.6,37.9 381.6,38.2 383.3,38.5 384.8,39.0 386.2,39.5 387.2,40.2 388.4,41.0 389.7,41.8 391.0,42.7 392.3,43.7 393.7,44.6 395.1,45.5 396.4,46.3 397.8,47.2 399.3,48.1 401.1,49.2 403.1,50.4 405.2,51.8 407.3,53.1 409.4,54.4 411.4,55.6 413.3,56.9 415.2,58.1 417.1,59.3 419.1,60.5 420.9,61.8 422.8,63.0 424.6,64.1 426.3,65.2 427.9,66.4 429.4,67.5 430.8,68.5 432.0,69.7 433.1,70.8 434.0,71.8 434.8,72.7 435.5,73.6 436.1,74.4 436.8,75.2 437.6,75.9 438.6,76.6 439.8,77.2 441.0,78.0 442.4,78.8 443.9,79.6 445.6,80.6 447.1,81.5 448.4,82.4 449.7,83.2 450.8,84.1 451.9,84.7 453.1,85.2 454.4,85.5 455.8,85.6 457.1,85.9 458.5,86.5 459.9,87.2 461.2,88.2 462.6,89.0 464.0,89.7 465.3,90.2 466.7,90.7 468.4,91.2 470.4,91.9 472.8,92.7 475.5,93.7 477.9,94.5 480.0,95.2 481.7,95.7 483.0,96.1 484.8,96.5 486.8,96.8 489.2,97.1 491.9,97.4 494.7,97.7 497.6,98.0 500.6,98.4 503.6,98.9 506.5,99.2 509.1,99.6 511.6,99.9 513.9,100.1 516.8,100.4 520.4,100.6 524.7,100.8 529.6,101.1 533.3,101.2 535.8,101.3 537.0,101.4" fill="none" stroke="#4848AE" stroke-width="1.3" stroke-linejoin="round" stroke-linecap="round"/>
<polyline points="322.2,20.7 325.8,20.8 333.0,21.1 343.9,21.5 358.3,22.1 372.2,22.5 385.4,22.9 398.0,23.2 410.0,23.3 425.8,23.6 445.4,23.9 468.9,24.3 496.1,24.8 516.6,25.1 530.2,25.4 537.0,25.5" fill="none" stroke="#222222" stroke-width="1.3" stroke-linejoin="round" stroke-linecap="round"/>
<polyline points="322.2,16.4 322.3,16.8 322.5,17.4 322.9,18.5 323.3,19.9 323.9,22.0 324.7,24.7 325.6,28.1 326.7,32.1 327.8,36.0 329.0,39.6 330.2,43.0 331.5,46.2 332.8,49.7 334.0,53.6 335.3,57.8 336.6,62.2 337.9,66.6 339.1,70.8 340.4,74.8 341.7,78.6 343.1,83.0 344.7,87.8 346.5,93.0 348.4,98.8 350.3,104.5 352.3,110.3 354.2,116.1 356.1,121.8 358.0,127.8 360.0,133.8 361.9,140.1 363.8,146.4 365.6,153.1 367.4,160.0 369.1,167.2 370.6,174.8 371.8,180.4 372.6,184.1 373.0,186.0" fill="none" stroke="#FF1418" stroke-width="1.3" stroke-linejoin="round" stroke-linecap="round"/>
</g>
<rect x="483.6" y="112.4" width="51.5" height="53.6" fill="#fff" stroke="#707070" stroke-width="1.0"/>
<line x1="485.8" y1="117.6" x2="505.6" y2="117.6" stroke="#EBBA3C" stroke-width="1.3"/>
<text x="507.2" y="120.5" font-size="7.2" fill="#222">PSO</text>
<line x1="485.8" y1="126.2" x2="505.6" y2="126.2" stroke="#6CC8F0" stroke-width="1.3"/>
<text x="507.2" y="129.1" font-size="7.2" fill="#222">LO</text>
<line x1="485.8" y1="134.8" x2="505.6" y2="134.8" stroke="#77AC30" stroke-width="1.3"/>
<text x="507.2" y="137.7" font-size="7.2" fill="#222">WOA</text>
<line x1="485.8" y1="143.4" x2="505.6" y2="143.4" stroke="#4848AE" stroke-width="1.3"/>
<text x="507.2" y="146.3" font-size="7.2" fill="#222">DBO</text>
<line x1="485.8" y1="152.0" x2="505.6" y2="152.0" stroke="#222222" stroke-width="1.3"/>
<text x="507.2" y="154.9" font-size="7.2" fill="#222">ALA</text>
<line x1="485.8" y1="160.6" x2="505.6" y2="160.6" stroke="#FF1418" stroke-width="1.3"/>
<text x="507.2" y="163.5" font-size="7.2" fill="#222">MsIALA</text>
<text transform="translate(293.5,100.9) rotate(-90)" font-size="8.7" text-anchor="middle" fill="#222">Best Fitness Value</text>
<rect x="44.2" y="248.4" width="214.80" height="170.40" fill="none" stroke="#707070" stroke-width="1.15"/>
<line x1="65.7" y1="418.8" x2="65.7" y2="416.6" stroke="#5a5a5a" stroke-width="0.8"/>
<line x1="65.7" y1="248.4" x2="65.7" y2="250.6" stroke="#5a5a5a" stroke-width="0.8"/>
<line x1="87.2" y1="418.8" x2="87.2" y2="416.6" stroke="#5a5a5a" stroke-width="0.8"/>
<line x1="87.2" y1="248.4" x2="87.2" y2="250.6" stroke="#5a5a5a" stroke-width="0.8"/>
<line x1="108.6" y1="418.8" x2="108.6" y2="416.6" stroke="#5a5a5a" stroke-width="0.8"/>
<line x1="108.6" y1="248.4" x2="108.6" y2="250.6" stroke="#5a5a5a" stroke-width="0.8"/>
<line x1="130.1" y1="418.8" x2="130.1" y2="416.6" stroke="#5a5a5a" stroke-width="0.8"/>
<line x1="130.1" y1="248.4" x2="130.1" y2="250.6" stroke="#5a5a5a" stroke-width="0.8"/>
<line x1="151.6" y1="418.8" x2="151.6" y2="416.6" stroke="#5a5a5a" stroke-width="0.8"/>
<line x1="151.6" y1="248.4" x2="151.6" y2="250.6" stroke="#5a5a5a" stroke-width="0.8"/>
<line x1="173.1" y1="418.8" x2="173.1" y2="416.6" stroke="#5a5a5a" stroke-width="0.8"/>
<line x1="173.1" y1="248.4" x2="173.1" y2="250.6" stroke="#5a5a5a" stroke-width="0.8"/>
<line x1="194.6" y1="418.8" x2="194.6" y2="416.6" stroke="#5a5a5a" stroke-width="0.8"/>
<line x1="194.6" y1="248.4" x2="194.6" y2="250.6" stroke="#5a5a5a" stroke-width="0.8"/>
<line x1="216.0" y1="418.8" x2="216.0" y2="416.6" stroke="#5a5a5a" stroke-width="0.8"/>
<line x1="216.0" y1="248.4" x2="216.0" y2="250.6" stroke="#5a5a5a" stroke-width="0.8"/>
<line x1="237.5" y1="418.8" x2="237.5" y2="416.6" stroke="#5a5a5a" stroke-width="0.8"/>
<line x1="237.5" y1="248.4" x2="237.5" y2="250.6" stroke="#5a5a5a" stroke-width="0.8"/>
<text x="65.7" y="429.0" font-size="7.4" text-anchor="middle" font-weight="normal" fill="#3a3a3a" style="stroke-width:0.1px">100</text>
<text x="87.2" y="429.0" font-size="7.4" text-anchor="middle" font-weight="normal" fill="#3a3a3a" style="stroke-width:0.1px">200</text>
<text x="108.6" y="429.0" font-size="7.4" text-anchor="middle" font-weight="normal" fill="#3a3a3a" style="stroke-width:0.1px">300</text>
<text x="130.1" y="429.0" font-size="7.4" text-anchor="middle" font-weight="normal" fill="#3a3a3a" style="stroke-width:0.1px">400</text>
<text x="151.6" y="429.0" font-size="7.4" text-anchor="middle" font-weight="normal" fill="#3a3a3a" style="stroke-width:0.1px">500</text>
<text x="173.1" y="429.0" font-size="7.4" text-anchor="middle" font-weight="normal" fill="#3a3a3a" style="stroke-width:0.1px">600</text>
<text x="194.6" y="429.0" font-size="7.4" text-anchor="middle" font-weight="normal" fill="#3a3a3a" style="stroke-width:0.1px">700</text>
<text x="216.0" y="429.0" font-size="7.4" text-anchor="middle" font-weight="normal" fill="#3a3a3a" style="stroke-width:0.1px">800</text>
<text x="237.5" y="429.0" font-size="7.4" text-anchor="middle" font-weight="normal" fill="#3a3a3a" style="stroke-width:0.1px">900</text>
<text x="259.0" y="429.0" font-size="7.4" text-anchor="middle" font-weight="normal" fill="#3a3a3a" style="stroke-width:0.1px">1000</text>
<text x="151.6" y="440.0" font-size="8.4" text-anchor="middle" font-weight="normal" fill="#222" >Iteration</text>
<text x="151.0" y="245.0" font-size="8.4" text-anchor="middle" font-weight="normal" fill="#222" >F3</text>
<text x="146.6" y="459.2" font-size="12" text-anchor="middle" font-weight="bold" fill="#111" >(c)</text>
<line x1="44.2" y1="252.4" x2="45.5" y2="252.4" stroke="#5a5a5a" stroke-width="0.7"/>
<line x1="259.0" y1="252.4" x2="257.7" y2="252.4" stroke="#5a5a5a" stroke-width="0.7"/>
<line x1="44.2" y1="257.8" x2="45.5" y2="257.8" stroke="#5a5a5a" stroke-width="0.7"/>
<line x1="259.0" y1="257.8" x2="257.7" y2="257.8" stroke="#5a5a5a" stroke-width="0.7"/>
<line x1="44.2" y1="263.1" x2="45.5" y2="263.1" stroke="#5a5a5a" stroke-width="0.7"/>
<line x1="259.0" y1="263.1" x2="257.7" y2="263.1" stroke="#5a5a5a" stroke-width="0.7"/>
<line x1="44.2" y1="268.5" x2="45.5" y2="268.5" stroke="#5a5a5a" stroke-width="0.7"/>
<line x1="259.0" y1="268.5" x2="257.7" y2="268.5" stroke="#5a5a5a" stroke-width="0.7"/>
<line x1="44.2" y1="273.9" x2="45.5" y2="273.9" stroke="#5a5a5a" stroke-width="0.7"/>
<line x1="259.0" y1="273.9" x2="257.7" y2="273.9" stroke="#5a5a5a" stroke-width="0.7"/>
<line x1="44.2" y1="279.2" x2="45.5" y2="279.2" stroke="#5a5a5a" stroke-width="0.7"/>
<line x1="259.0" y1="279.2" x2="257.7" y2="279.2" stroke="#5a5a5a" stroke-width="0.7"/>
<line x1="44.2" y1="284.6" x2="45.5" y2="284.6" stroke="#5a5a5a" stroke-width="0.7"/>
<line x1="259.0" y1="284.6" x2="257.7" y2="284.6" stroke="#5a5a5a" stroke-width="0.7"/>
<line x1="44.2" y1="290.0" x2="45.5" y2="290.0" stroke="#5a5a5a" stroke-width="0.7"/>
<line x1="259.0" y1="290.0" x2="257.7" y2="290.0" stroke="#5a5a5a" stroke-width="0.7"/>
<line x1="44.2" y1="295.4" x2="45.5" y2="295.4" stroke="#5a5a5a" stroke-width="0.7"/>
<line x1="259.0" y1="295.4" x2="257.7" y2="295.4" stroke="#5a5a5a" stroke-width="0.7"/>
<line x1="44.2" y1="300.7" x2="45.5" y2="300.7" stroke="#5a5a5a" stroke-width="0.7"/>
<line x1="259.0" y1="300.7" x2="257.7" y2="300.7" stroke="#5a5a5a" stroke-width="0.7"/>
<line x1="44.2" y1="306.1" x2="45.5" y2="306.1" stroke="#5a5a5a" stroke-width="0.7"/>
<line x1="259.0" y1="306.1" x2="257.7" y2="306.1" stroke="#5a5a5a" stroke-width="0.7"/>
<line x1="44.2" y1="311.5" x2="45.5" y2="311.5" stroke="#5a5a5a" stroke-width="0.7"/>
<line x1="259.0" y1="311.5" x2="257.7" y2="311.5" stroke="#5a5a5a" stroke-width="0.7"/>
<line x1="44.2" y1="316.8" x2="45.5" y2="316.8" stroke="#5a5a5a" stroke-width="0.7"/>
<line x1="259.0" y1="316.8" x2="257.7" y2="316.8" stroke="#5a5a5a" stroke-width="0.7"/>
<line x1="44.2" y1="322.2" x2="45.5" y2="322.2" stroke="#5a5a5a" stroke-width="0.7"/>
<line x1="259.0" y1="322.2" x2="257.7" y2="322.2" stroke="#5a5a5a" stroke-width="0.7"/>
<line x1="44.2" y1="327.6" x2="45.5" y2="327.6" stroke="#5a5a5a" stroke-width="0.7"/>
<line x1="259.0" y1="327.6" x2="257.7" y2="327.6" stroke="#5a5a5a" stroke-width="0.7"/>
<line x1="44.2" y1="332.9" x2="45.5" y2="332.9" stroke="#5a5a5a" stroke-width="0.7"/>
<line x1="259.0" y1="332.9" x2="257.7" y2="332.9" stroke="#5a5a5a" stroke-width="0.7"/>
<line x1="44.2" y1="338.3" x2="45.5" y2="338.3" stroke="#5a5a5a" stroke-width="0.7"/>
<line x1="259.0" y1="338.3" x2="257.7" y2="338.3" stroke="#5a5a5a" stroke-width="0.7"/>
<line x1="44.2" y1="343.7" x2="45.5" y2="343.7" stroke="#5a5a5a" stroke-width="0.7"/>
<line x1="259.0" y1="343.7" x2="257.7" y2="343.7" stroke="#5a5a5a" stroke-width="0.7"/>
<line x1="44.2" y1="349.1" x2="45.5" y2="349.1" stroke="#5a5a5a" stroke-width="0.7"/>
<line x1="259.0" y1="349.1" x2="257.7" y2="349.1" stroke="#5a5a5a" stroke-width="0.7"/>
<line x1="44.2" y1="354.4" x2="45.5" y2="354.4" stroke="#5a5a5a" stroke-width="0.7"/>
<line x1="259.0" y1="354.4" x2="257.7" y2="354.4" stroke="#5a5a5a" stroke-width="0.7"/>
<line x1="44.2" y1="359.8" x2="45.5" y2="359.8" stroke="#5a5a5a" stroke-width="0.7"/>
<line x1="259.0" y1="359.8" x2="257.7" y2="359.8" stroke="#5a5a5a" stroke-width="0.7"/>
<line x1="44.2" y1="365.2" x2="45.5" y2="365.2" stroke="#5a5a5a" stroke-width="0.7"/>
<line x1="259.0" y1="365.2" x2="257.7" y2="365.2" stroke="#5a5a5a" stroke-width="0.7"/>
<line x1="44.2" y1="370.5" x2="45.5" y2="370.5" stroke="#5a5a5a" stroke-width="0.7"/>
<line x1="259.0" y1="370.5" x2="257.7" y2="370.5" stroke="#5a5a5a" stroke-width="0.7"/>
<line x1="44.2" y1="375.9" x2="45.5" y2="375.9" stroke="#5a5a5a" stroke-width="0.7"/>
<line x1="259.0" y1="375.9" x2="257.7" y2="375.9" stroke="#5a5a5a" stroke-width="0.7"/>
<line x1="44.2" y1="381.3" x2="45.5" y2="381.3" stroke="#5a5a5a" stroke-width="0.7"/>
<line x1="259.0" y1="381.3" x2="257.7" y2="381.3" stroke="#5a5a5a" stroke-width="0.7"/>
<line x1="44.2" y1="386.6" x2="45.5" y2="386.6" stroke="#5a5a5a" stroke-width="0.7"/>
<line x1="259.0" y1="386.6" x2="257.7" y2="386.6" stroke="#5a5a5a" stroke-width="0.7"/>
<line x1="44.2" y1="392.0" x2="45.5" y2="392.0" stroke="#5a5a5a" stroke-width="0.7"/>
<line x1="259.0" y1="392.0" x2="257.7" y2="392.0" stroke="#5a5a5a" stroke-width="0.7"/>
<line x1="44.2" y1="397.4" x2="45.5" y2="397.4" stroke="#5a5a5a" stroke-width="0.7"/>
<line x1="259.0" y1="397.4" x2="257.7" y2="397.4" stroke="#5a5a5a" stroke-width="0.7"/>
<line x1="44.2" y1="402.8" x2="45.5" y2="402.8" stroke="#5a5a5a" stroke-width="0.7"/>
<line x1="259.0" y1="402.8" x2="257.7" y2="402.8" stroke="#5a5a5a" stroke-width="0.7"/>
<line x1="44.2" y1="408.1" x2="45.5" y2="408.1" stroke="#5a5a5a" stroke-width="0.7"/>
<line x1="259.0" y1="408.1" x2="257.7" y2="408.1" stroke="#5a5a5a" stroke-width="0.7"/>
<line x1="44.2" y1="413.5" x2="45.5" y2="413.5" stroke="#5a5a5a" stroke-width="0.7"/>
<line x1="259.0" y1="413.5" x2="257.7" y2="413.5" stroke="#5a5a5a" stroke-width="0.7"/>
<line x1="44.2" y1="252.4" x2="46.6" y2="252.4" stroke="#5a5a5a" stroke-width="0.8"/>
<line x1="259.0" y1="252.4" x2="256.6" y2="252.4" stroke="#5a5a5a" stroke-width="0.8"/>
<text x="40.7" y="256.2" font-size="8" text-anchor="end" fill="#3a3a3a" style="stroke-width:0.1px">10<tspan font-size="6.4" dy="-3.4">0</tspan></text>
<line x1="44.2" y1="306.1" x2="46.6" y2="306.1" stroke="#5a5a5a" stroke-width="0.8"/>
<line x1="259.0" y1="306.1" x2="256.6" y2="306.1" stroke="#5a5a5a" stroke-width="0.8"/>
<text x="40.7" y="309.9" font-size="8" text-anchor="end" fill="#3a3a3a" style="stroke-width:0.1px">10<tspan font-size="6.4" dy="-3.4">−100</tspan></text>
<line x1="44.2" y1="359.8" x2="46.6" y2="359.8" stroke="#5a5a5a" stroke-width="0.8"/>
<line x1="259.0" y1="359.8" x2="256.6" y2="359.8" stroke="#5a5a5a" stroke-width="0.8"/>
<text x="40.7" y="363.6" font-size="8" text-anchor="end" fill="#3a3a3a" style="stroke-width:0.1px">10<tspan font-size="6.4" dy="-3.4">−200</tspan></text>
<line x1="44.2" y1="413.5" x2="46.6" y2="413.5" stroke="#5a5a5a" stroke-width="0.8"/>
<line x1="259.0" y1="413.5" x2="256.6" y2="413.5" stroke="#5a5a5a" stroke-width="0.8"/>
<text x="40.7" y="417.3" font-size="8" text-anchor="end" fill="#3a3a3a" style="stroke-width:0.1px">10<tspan font-size="6.4" dy="-3.4">−300</tspan></text>
<g clip-path="url(#c10)">
<polyline points="44.2,248.8 57.6,248.8 84.4,248.8 124.6,248.8 178.3,248.8 218.5,248.8 245.3,248.8 258.7,248.8" fill="none" stroke="#EBBA3C" stroke-width="1.3" stroke-linejoin="round" stroke-linecap="round"/>
<polyline points="44.2,249.2 47.7,249.2 54.7,249.3 65.1,249.3 79.1,249.4 99.5,249.5 126.3,249.5 159.5,249.5 199.2,249.6 228.9,249.6 248.8,249.6 258.7,249.6" fill="none" stroke="#6CC8F0" stroke-width="1.3" stroke-linejoin="round" stroke-linecap="round"/>
<polyline points="44.2,248.8 57.6,248.8 84.4,248.8 124.6,248.8 178.3,248.8 218.5,248.8 245.3,248.8 258.7,248.8" fill="none" stroke="#77AC30" stroke-width="1.3" stroke-linejoin="round" stroke-linecap="round"/>
<polyline points="44.2,248.8 44.4,249.0 44.8,249.3 45.4,249.8 46.3,250.5 47.0,251.0 47.7,251.4 48.3,251.7 48.8,251.9 49.4,252.0 50.1,252.2 50.8,252.3 51.7,252.4 52.5,252.6 53.3,252.7 54.1,252.9 55.0,253.2 55.8,253.5 56.6,253.8 57.4,254.2 58.3,254.7 59.2,255.1 60.3,255.3 61.5,255.5 62.9,255.6 64.1,255.8 65.1,256.2 65.9,256.8 66.6,257.5 67.3,258.1 68.2,258.6 69.1,259.0 70.0,259.3 70.9,259.6 71.7,260.0 72.3,260.5 72.8,261.1 73.4,261.6 74.1,262.2 74.8,262.7 75.7,263.3 76.6,263.7 77.5,264.1 78.5,264.3 79.6,264.4 80.7,264.6 81.8,264.9 82.9,265.2 84.0,265.7 84.9,266.1 85.7,266.5 86.4,266.9 87.0,267.3 87.6,267.9 88.3,268.8 89.0,270.0 89.9,271.3 90.7,272.6 91.5,273.9 92.3,275.0 93.2,276.1 94.1,277.2 95.1,278.4 96.2,279.6 97.3,280.9 98.4,282.2 99.2,283.7 100.0,285.2 100.5,286.7 101.2,288.2 101.9,289.6 102.7,290.8 103.5,292.0 104.3,293.0 105.0,294.0 105.7,295.0 106.2,295.8 107.0,296.6 107.8,297.2 108.8,297.7 110.0,298.2 111.1,298.8 112.1,299.5 113.0,300.5 113.8,301.6 114.7,302.7 115.7,303.7 116.8,304.6 117.9,305.5 119.0,306.2 120.0,306.9 120.9,307.4 121.8,307.9 122.6,308.4 123.3,309.1 123.9,310.0 124.5,311.0 125.1,312.1 125.8,313.2 126.6,314.4 127.5,315.7 128.4,316.8 129.4,317.7 130.5,318.5 131.6,319.0 132.7,319.8 133.7,320.7 134.6,321.8 135.4,323.1 136.3,324.4 137.3,325.6 138.4,326.9 139.6,328.2 140.7,329.4 141.9,330.5 143.0,331.6 144.1,332.6 145.2,333.5 146.2,334.2 147.1,334.7 148.0,335.2 148.9,335.8 149.7,336.6 150.6,337.5 151.4,338.7 152.2,339.8 152.9,340.9 153.6,341.9 154.1,342.9 154.8,344.0 155.7,345.2 156.6,346.4 157.8,347.8 158.8,349.0 159.7,350.1 160.6,351.0 161.4,351.9 162.3,352.9 163.2,354.1 164.2,355.5 165.4,357.2 166.2,358.6 166.9,359.8 167.4,360.8 167.7,361.7 168.2,362.6 168.9,363.5 169.8,364.5 170.9,365.7 172.0,366.7 173.2,367.8 174.5,368.9 175.9,370.0 177.1,371.0 178.2,372.0 179.1,372.8 180.0,373.7 180.8,374.4 181.8,375.1 182.8,375.7 183.9,376.3 185.0,376.9 186.3,377.5 187.6,378.1 188.9,378.8 190.3,379.6 191.7,380.5 193.1,381.4 194.4,382.6 195.8,383.6 197.2,384.6 198.5,385.6 199.9,386.6 201.2,387.4 202.6,388.2 204.0,388.8 205.3,389.4 206.5,389.9 207.5,390.3 208.4,390.6 209.0,390.9 209.8,391.3 210.7,391.9 211.8,392.7 212.9,393.7 214.1,394.5 215.3,395.3 216.5,396.0 217.7,396.6 219.2,397.3 221.0,398.1 223.0,398.9 225.4,399.9 227.7,400.7 230.1,401.5 232.5,402.1 234.8,402.6 237.2,403.1 239.6,403.5 241.9,403.9 244.3,404.3 246.7,404.6 249.3,404.8 251.9,404.9 254.6,404.9 256.7,405.0 258.0,405.0 258.7,405.0" fill="none" stroke="#4848AE" stroke-width="1.3" stroke-linejoin="round" stroke-linecap="round"/>
<polyline points="44.2,248.8 47.1,248.8 52.8,248.9 61.4,249.1 72.8,249.2 82.1,249.4 89.3,249.6 94.4,249.7 97.2,249.8 99.8,250.0 102.0,250.2 103.8,250.5 105.3,250.9 107.1,251.2 109.3,251.5 111.8,251.8 114.7,252.1 118.7,252.3 123.7,252.6 129.9,252.8 137.1,252.9 143.9,253.1 150.3,253.2 156.2,253.3 161.8,253.4 171.4,253.6 185.3,253.6 203.3,253.7 225.4,253.9 242.1,253.9 253.2,254.0 258.7,254.0" fill="none" stroke="#222222" stroke-width="1.3" stroke-linejoin="round" stroke-linecap="round"/>
<polyline points="43.8,248.8 44.0,250.0 44.5,252.4 45.3,256.0 46.2,260.8 47.2,265.4 48.2,269.7 49.1,273.8 50.1,277.7 51.0,282.4 52.0,287.8 53.0,294.1 53.9,301.1 55.0,308.3 56.1,315.7 57.3,323.2 58.6,330.9 59.9,338.9 61.1,347.2 62.4,355.9 63.7,364.8 65.0,374.1 66.4,383.8 67.8,393.8 69.3,404.0 70.5,411.8 71.2,416.9 71.6,419.5" fill="none" stroke="#FF1418" stroke-width="1.3" stroke-linejoin="round" stroke-linecap="round"/>
</g>
<rect x="203" y="258.6" width="51.5" height="53.6" fill="#fff" stroke="#707070" stroke-width="1.0"/>
<line x1="205.2" y1="263.8" x2="225.0" y2="263.8" stroke="#EBBA3C" stroke-width="1.3"/>
<text x="226.6" y="266.7" font-size="7.2" fill="#222">PSO</text>
<line x1="205.2" y1="272.4" x2="225.0" y2="272.4" stroke="#6CC8F0" stroke-width="1.3"/>
<text x="226.6" y="275.3" font-size="7.2" fill="#222">LO</text>
<line x1="205.2" y1="281.0" x2="225.0" y2="281.0" stroke="#77AC30" stroke-width="1.3"/>
<text x="226.6" y="283.9" font-size="7.2" fill="#222">WOA</text>
<line x1="205.2" y1="289.6" x2="225.0" y2="289.6" stroke="#4848AE" stroke-width="1.3"/>
<text x="226.6" y="292.5" font-size="7.2" fill="#222">DBO</text>
<line x1="205.2" y1="298.2" x2="225.0" y2="298.2" stroke="#222222" stroke-width="1.3"/>
<text x="226.6" y="301.1" font-size="7.2" fill="#222">ALA</text>
<line x1="205.2" y1="306.8" x2="225.0" y2="306.8" stroke="#FF1418" stroke-width="1.3"/>
<text x="226.6" y="309.7" font-size="7.2" fill="#222">MsIALA</text>
<text transform="translate(15.3,333.7) rotate(-90)" font-size="8.7" text-anchor="middle" fill="#222">Best Fitness Value</text>
<rect x="322.0" y="248.4" width="215.00" height="170.40" fill="none" stroke="#707070" stroke-width="1.15"/>
<line x1="343.5" y1="418.8" x2="343.5" y2="416.6" stroke="#5a5a5a" stroke-width="0.8"/>
<line x1="343.5" y1="248.4" x2="343.5" y2="250.6" stroke="#5a5a5a" stroke-width="0.8"/>
<line x1="365.0" y1="418.8" x2="365.0" y2="416.6" stroke="#5a5a5a" stroke-width="0.8"/>
<line x1="365.0" y1="248.4" x2="365.0" y2="250.6" stroke="#5a5a5a" stroke-width="0.8"/>
<line x1="386.5" y1="418.8" x2="386.5" y2="416.6" stroke="#5a5a5a" stroke-width="0.8"/>
<line x1="386.5" y1="248.4" x2="386.5" y2="250.6" stroke="#5a5a5a" stroke-width="0.8"/>
<line x1="408.0" y1="418.8" x2="408.0" y2="416.6" stroke="#5a5a5a" stroke-width="0.8"/>
<line x1="408.0" y1="248.4" x2="408.0" y2="250.6" stroke="#5a5a5a" stroke-width="0.8"/>
<line x1="429.5" y1="418.8" x2="429.5" y2="416.6" stroke="#5a5a5a" stroke-width="0.8"/>
<line x1="429.5" y1="248.4" x2="429.5" y2="250.6" stroke="#5a5a5a" stroke-width="0.8"/>
<line x1="451.0" y1="418.8" x2="451.0" y2="416.6" stroke="#5a5a5a" stroke-width="0.8"/>
<line x1="451.0" y1="248.4" x2="451.0" y2="250.6" stroke="#5a5a5a" stroke-width="0.8"/>
<line x1="472.5" y1="418.8" x2="472.5" y2="416.6" stroke="#5a5a5a" stroke-width="0.8"/>
<line x1="472.5" y1="248.4" x2="472.5" y2="250.6" stroke="#5a5a5a" stroke-width="0.8"/>
<line x1="494.0" y1="418.8" x2="494.0" y2="416.6" stroke="#5a5a5a" stroke-width="0.8"/>
<line x1="494.0" y1="248.4" x2="494.0" y2="250.6" stroke="#5a5a5a" stroke-width="0.8"/>
<line x1="515.5" y1="418.8" x2="515.5" y2="416.6" stroke="#5a5a5a" stroke-width="0.8"/>
<line x1="515.5" y1="248.4" x2="515.5" y2="250.6" stroke="#5a5a5a" stroke-width="0.8"/>
<text x="343.5" y="429.0" font-size="7.4" text-anchor="middle" font-weight="normal" fill="#3a3a3a" style="stroke-width:0.1px">100</text>
<text x="365.0" y="429.0" font-size="7.4" text-anchor="middle" font-weight="normal" fill="#3a3a3a" style="stroke-width:0.1px">200</text>
<text x="386.5" y="429.0" font-size="7.4" text-anchor="middle" font-weight="normal" fill="#3a3a3a" style="stroke-width:0.1px">300</text>
<text x="408.0" y="429.0" font-size="7.4" text-anchor="middle" font-weight="normal" fill="#3a3a3a" style="stroke-width:0.1px">400</text>
<text x="429.5" y="429.0" font-size="7.4" text-anchor="middle" font-weight="normal" fill="#3a3a3a" style="stroke-width:0.1px">500</text>
<text x="451.0" y="429.0" font-size="7.4" text-anchor="middle" font-weight="normal" fill="#3a3a3a" style="stroke-width:0.1px">600</text>
<text x="472.5" y="429.0" font-size="7.4" text-anchor="middle" font-weight="normal" fill="#3a3a3a" style="stroke-width:0.1px">700</text>
<text x="494.0" y="429.0" font-size="7.4" text-anchor="middle" font-weight="normal" fill="#3a3a3a" style="stroke-width:0.1px">800</text>
<text x="515.5" y="429.0" font-size="7.4" text-anchor="middle" font-weight="normal" fill="#3a3a3a" style="stroke-width:0.1px">900</text>
<text x="537.0" y="429.0" font-size="7.4" text-anchor="middle" font-weight="normal" fill="#3a3a3a" style="stroke-width:0.1px">1000</text>
<text x="429.5" y="440.0" font-size="8.4" text-anchor="middle" font-weight="normal" fill="#222" >Iteration</text>
<text x="428.9" y="245.0" font-size="8.4" text-anchor="middle" font-weight="normal" fill="#222" >F4</text>
<text x="424.5" y="459.2" font-size="12" text-anchor="middle" font-weight="bold" fill="#111" >(d)</text>
<line x1="322.0" y1="251.6" x2="323.3" y2="251.6" stroke="#5a5a5a" stroke-width="0.7"/>
<line x1="537.0" y1="251.6" x2="535.7" y2="251.6" stroke="#5a5a5a" stroke-width="0.7"/>
<line x1="322.0" y1="257.0" x2="323.3" y2="257.0" stroke="#5a5a5a" stroke-width="0.7"/>
<line x1="537.0" y1="257.0" x2="535.7" y2="257.0" stroke="#5a5a5a" stroke-width="0.7"/>
<line x1="322.0" y1="262.3" x2="323.3" y2="262.3" stroke="#5a5a5a" stroke-width="0.7"/>
<line x1="537.0" y1="262.3" x2="535.7" y2="262.3" stroke="#5a5a5a" stroke-width="0.7"/>
<line x1="322.0" y1="267.7" x2="323.3" y2="267.7" stroke="#5a5a5a" stroke-width="0.7"/>
<line x1="537.0" y1="267.7" x2="535.7" y2="267.7" stroke="#5a5a5a" stroke-width="0.7"/>
<line x1="322.0" y1="273.1" x2="323.3" y2="273.1" stroke="#5a5a5a" stroke-width="0.7"/>
<line x1="537.0" y1="273.1" x2="535.7" y2="273.1" stroke="#5a5a5a" stroke-width="0.7"/>
<line x1="322.0" y1="278.4" x2="323.3" y2="278.4" stroke="#5a5a5a" stroke-width="0.7"/>
<line x1="537.0" y1="278.4" x2="535.7" y2="278.4" stroke="#5a5a5a" stroke-width="0.7"/>
<line x1="322.0" y1="283.8" x2="323.3" y2="283.8" stroke="#5a5a5a" stroke-width="0.7"/>
<line x1="537.0" y1="283.8" x2="535.7" y2="283.8" stroke="#5a5a5a" stroke-width="0.7"/>
<line x1="322.0" y1="289.2" x2="323.3" y2="289.2" stroke="#5a5a5a" stroke-width="0.7"/>
<line x1="537.0" y1="289.2" x2="535.7" y2="289.2" stroke="#5a5a5a" stroke-width="0.7"/>
<line x1="322.0" y1="294.6" x2="323.3" y2="294.6" stroke="#5a5a5a" stroke-width="0.7"/>
<line x1="537.0" y1="294.6" x2="535.7" y2="294.6" stroke="#5a5a5a" stroke-width="0.7"/>
<line x1="322.0" y1="299.9" x2="323.3" y2="299.9" stroke="#5a5a5a" stroke-width="0.7"/>
<line x1="537.0" y1="299.9" x2="535.7" y2="299.9" stroke="#5a5a5a" stroke-width="0.7"/>
<line x1="322.0" y1="305.3" x2="323.3" y2="305.3" stroke="#5a5a5a" stroke-width="0.7"/>
<line x1="537.0" y1="305.3" x2="535.7" y2="305.3" stroke="#5a5a5a" stroke-width="0.7"/>
<line x1="322.0" y1="310.7" x2="323.3" y2="310.7" stroke="#5a5a5a" stroke-width="0.7"/>
<line x1="537.0" y1="310.7" x2="535.7" y2="310.7" stroke="#5a5a5a" stroke-width="0.7"/>
<line x1="322.0" y1="316.0" x2="323.3" y2="316.0" stroke="#5a5a5a" stroke-width="0.7"/>
<line x1="537.0" y1="316.0" x2="535.7" y2="316.0" stroke="#5a5a5a" stroke-width="0.7"/>
<line x1="322.0" y1="321.4" x2="323.3" y2="321.4" stroke="#5a5a5a" stroke-width="0.7"/>
<line x1="537.0" y1="321.4" x2="535.7" y2="321.4" stroke="#5a5a5a" stroke-width="0.7"/>
<line x1="322.0" y1="326.8" x2="323.3" y2="326.8" stroke="#5a5a5a" stroke-width="0.7"/>
<line x1="537.0" y1="326.8" x2="535.7" y2="326.8" stroke="#5a5a5a" stroke-width="0.7"/>
<line x1="322.0" y1="332.1" x2="323.3" y2="332.1" stroke="#5a5a5a" stroke-width="0.7"/>
<line x1="537.0" y1="332.1" x2="535.7" y2="332.1" stroke="#5a5a5a" stroke-width="0.7"/>
<line x1="322.0" y1="337.5" x2="323.3" y2="337.5" stroke="#5a5a5a" stroke-width="0.7"/>
<line x1="537.0" y1="337.5" x2="535.7" y2="337.5" stroke="#5a5a5a" stroke-width="0.7"/>
<line x1="322.0" y1="342.9" x2="323.3" y2="342.9" stroke="#5a5a5a" stroke-width="0.7"/>
<line x1="537.0" y1="342.9" x2="535.7" y2="342.9" stroke="#5a5a5a" stroke-width="0.7"/>
<line x1="322.0" y1="348.3" x2="323.3" y2="348.3" stroke="#5a5a5a" stroke-width="0.7"/>
<line x1="537.0" y1="348.3" x2="535.7" y2="348.3" stroke="#5a5a5a" stroke-width="0.7"/>
<line x1="322.0" y1="353.6" x2="323.3" y2="353.6" stroke="#5a5a5a" stroke-width="0.7"/>
<line x1="537.0" y1="353.6" x2="535.7" y2="353.6" stroke="#5a5a5a" stroke-width="0.7"/>
<line x1="322.0" y1="359.0" x2="323.3" y2="359.0" stroke="#5a5a5a" stroke-width="0.7"/>
<line x1="537.0" y1="359.0" x2="535.7" y2="359.0" stroke="#5a5a5a" stroke-width="0.7"/>
<line x1="322.0" y1="364.4" x2="323.3" y2="364.4" stroke="#5a5a5a" stroke-width="0.7"/>
<line x1="537.0" y1="364.4" x2="535.7" y2="364.4" stroke="#5a5a5a" stroke-width="0.7"/>
<line x1="322.0" y1="369.7" x2="323.3" y2="369.7" stroke="#5a5a5a" stroke-width="0.7"/>
<line x1="537.0" y1="369.7" x2="535.7" y2="369.7" stroke="#5a5a5a" stroke-width="0.7"/>
<line x1="322.0" y1="375.1" x2="323.3" y2="375.1" stroke="#5a5a5a" stroke-width="0.7"/>
<line x1="537.0" y1="375.1" x2="535.7" y2="375.1" stroke="#5a5a5a" stroke-width="0.7"/>
<line x1="322.0" y1="380.5" x2="323.3" y2="380.5" stroke="#5a5a5a" stroke-width="0.7"/>
<line x1="537.0" y1="380.5" x2="535.7" y2="380.5" stroke="#5a5a5a" stroke-width="0.7"/>
<line x1="322.0" y1="385.9" x2="323.3" y2="385.9" stroke="#5a5a5a" stroke-width="0.7"/>
<line x1="537.0" y1="385.9" x2="535.7" y2="385.9" stroke="#5a5a5a" stroke-width="0.7"/>
<line x1="322.0" y1="391.2" x2="323.3" y2="391.2" stroke="#5a5a5a" stroke-width="0.7"/>
<line x1="537.0" y1="391.2" x2="535.7" y2="391.2" stroke="#5a5a5a" stroke-width="0.7"/>
<line x1="322.0" y1="396.6" x2="323.3" y2="396.6" stroke="#5a5a5a" stroke-width="0.7"/>
<line x1="537.0" y1="396.6" x2="535.7" y2="396.6" stroke="#5a5a5a" stroke-width="0.7"/>
<line x1="322.0" y1="402.0" x2="323.3" y2="402.0" stroke="#5a5a5a" stroke-width="0.7"/>
<line x1="537.0" y1="402.0" x2="535.7" y2="402.0" stroke="#5a5a5a" stroke-width="0.7"/>
<line x1="322.0" y1="407.3" x2="323.3" y2="407.3" stroke="#5a5a5a" stroke-width="0.7"/>
<line x1="537.0" y1="407.3" x2="535.7" y2="407.3" stroke="#5a5a5a" stroke-width="0.7"/>
<line x1="322.0" y1="412.7" x2="323.3" y2="412.7" stroke="#5a5a5a" stroke-width="0.7"/>
<line x1="537.0" y1="412.7" x2="535.7" y2="412.7" stroke="#5a5a5a" stroke-width="0.7"/>
<line x1="322.0" y1="418.1" x2="323.3" y2="418.1" stroke="#5a5a5a" stroke-width="0.7"/>
<line x1="537.0" y1="418.1" x2="535.7" y2="418.1" stroke="#5a5a5a" stroke-width="0.7"/>
<line x1="322.0" y1="251.6" x2="324.4" y2="251.6" stroke="#5a5a5a" stroke-width="0.8"/>
<line x1="537.0" y1="251.6" x2="534.6" y2="251.6" stroke="#5a5a5a" stroke-width="0.8"/>
<text x="318.5" y="255.4" font-size="8" text-anchor="end" fill="#3a3a3a" style="stroke-width:0.1px">10<tspan font-size="6.4" dy="-3.4">0</tspan></text>
<line x1="322.0" y1="305.3" x2="324.4" y2="305.3" stroke="#5a5a5a" stroke-width="0.8"/>
<line x1="537.0" y1="305.3" x2="534.6" y2="305.3" stroke="#5a5a5a" stroke-width="0.8"/>
<text x="318.5" y="309.1" font-size="8" text-anchor="end" fill="#3a3a3a" style="stroke-width:0.1px">10<tspan font-size="6.4" dy="-3.4">−100</tspan></text>
<line x1="322.0" y1="359.0" x2="324.4" y2="359.0" stroke="#5a5a5a" stroke-width="0.8"/>
<line x1="537.0" y1="359.0" x2="534.6" y2="359.0" stroke="#5a5a5a" stroke-width="0.8"/>
<text x="318.5" y="362.8" font-size="8" text-anchor="end" fill="#3a3a3a" style="stroke-width:0.1px">10<tspan font-size="6.4" dy="-3.4">−200</tspan></text>
<line x1="322.0" y1="413.0" x2="324.4" y2="413.0" stroke="#5a5a5a" stroke-width="0.8"/>
<line x1="537.0" y1="413.0" x2="534.6" y2="413.0" stroke="#5a5a5a" stroke-width="0.8"/>
<text x="318.5" y="416.8" font-size="8" text-anchor="end" fill="#3a3a3a" style="stroke-width:0.1px">10<tspan font-size="6.4" dy="-3.4">−300</tspan></text>
<g clip-path="url(#c11)">
<polyline points="322.0,248.8 335.4,248.8 362.3,248.8 402.6,248.8 456.4,248.8 496.7,248.8 523.6,248.8 537.0,248.8" fill="none" stroke="#EBBA3C" stroke-width="1.3" stroke-linejoin="round" stroke-linecap="round"/>
<polyline points="322.0,249.0 335.4,249.0 362.3,249.0 402.6,249.0 456.4,249.0 496.7,249.0 523.6,249.0 537.0,249.0" fill="none" stroke="#6CC8F0" stroke-width="1.3" stroke-linejoin="round" stroke-linecap="round"/>
<polyline points="322.0,248.7 335.4,248.7 362.3,248.7 402.6,248.7 456.4,248.7 496.7,248.7 523.6,248.7 537.0,248.7" fill="none" stroke="#77AC30" stroke-width="1.3" stroke-linejoin="round" stroke-linecap="round"/>
<polyline points="322.2,248.8 322.5,248.9 323.0,249.0 323.8,249.2 324.9,249.5 326.2,249.7 327.9,249.8 329.8,249.9 332.0,249.9 333.9,250.0 335.6,250.3 336.9,250.7 338.0,251.3 339.1,251.8 340.2,252.3 341.2,252.7 342.3,253.1 343.5,253.4 344.8,253.6 346.1,253.7 347.4,253.7 348.7,253.8 349.8,254.1 350.7,254.5 351.5,255.1 352.4,255.5 353.3,255.9 354.3,256.2 355.5,256.5 356.6,256.8 357.7,257.2 358.8,257.7 359.8,258.3 360.9,259.0 362.0,259.9 363.1,260.8 364.2,261.9 365.1,262.8 365.9,263.6 366.6,264.1 367.2,264.6 368.5,264.9 370.6,265.1 373.4,265.3 377.0,265.3 380.0,265.6 382.3,266.0 384.0,266.6 385.1,267.4 386.2,268.1 387.3,268.6 388.3,269.0 389.5,269.3 390.6,269.7 391.8,270.3 393.1,271.1 394.5,272.1 395.8,273.0 397.2,273.9 398.6,274.7 399.9,275.6 401.3,276.2 402.7,276.8 404.1,277.2 405.4,277.5 406.7,277.9 407.8,278.3 408.7,278.9 409.5,279.6 410.4,280.4 411.5,281.3 412.8,282.2 414.1,283.4 415.5,284.3 416.9,285.2 418.2,286.0 419.6,286.7 420.9,287.3 422.3,287.9 423.7,288.5 425.0,289.1 426.4,289.6 427.8,290.2 429.1,290.7 430.5,291.3 431.7,291.9 432.8,292.6 433.8,293.3 434.7,294.2 435.7,295.0 436.9,295.7 438.1,296.4 439.6,297.1 441.0,298.0 442.4,298.9 443.8,300.0 445.2,301.2 447.0,302.5 449.1,303.8 451.6,305.1 454.4,306.5 457.5,307.9 460.8,309.3 464.4,310.7 468.1,312.2 471.9,313.5 475.7,314.7 479.5,315.7 483.2,316.7 486.9,317.5 490.4,318.3 493.9,319.0 497.2,319.6 500.9,320.2 504.9,320.7 509.3,321.2 514.0,321.7 518.5,322.1 522.9,322.4 527.1,322.6 531.0,322.7 534.0,322.7 536.0,322.8 537.0,322.8" fill="none" stroke="#4848AE" stroke-width="1.3" stroke-linejoin="round" stroke-linecap="round"/>
<polyline points="322.0,248.8 323.8,248.8 327.2,248.9 332.5,248.9 339.5,249.1 347.9,249.2 357.6,249.4 368.8,249.6 381.2,249.8 399.2,250.0 422.6,250.2 451.4,250.3 485.6,250.4 511.3,250.5 528.4,250.6 537.0,250.6" fill="none" stroke="#222222" stroke-width="1.3" stroke-linejoin="round" stroke-linecap="round"/>
<polyline points="322.2,248.8 322.4,249.2 322.7,249.9 323.2,251.1 323.9,252.6 324.6,254.2 325.2,256.1 325.9,258.1 326.6,260.2 327.3,262.5 328.1,264.8 328.8,267.2 329.7,269.7 330.4,272.0 331.1,274.2 331.7,276.2 332.3,278.1 333.0,280.3 333.9,282.6 334.9,285.1 336.2,287.9 337.5,291.2 338.8,295.0 340.2,299.5 341.8,304.4 343.2,309.5 344.7,314.8 346.2,320.1 347.7,325.6 349.2,331.1 350.7,336.5 352.1,342.0 353.6,347.5 355.1,353.0 356.6,358.4 358.1,363.9 359.6,369.4 361.1,374.9 362.6,380.3 364.1,385.8 365.6,391.3 367.0,396.6 368.3,401.8 369.6,406.8 370.8,411.7 371.7,415.3 372.3,417.8 372.6,419.0" fill="none" stroke="#FF1418" stroke-width="1.3" stroke-linejoin="round" stroke-linecap="round"/>
</g>
<rect x="481.6" y="255.4" width="51.5" height="53.6" fill="#fff" stroke="#707070" stroke-width="1.0"/>
<line x1="483.8" y1="260.6" x2="503.6" y2="260.6" stroke="#EBBA3C" stroke-width="1.3"/>
<text x="505.2" y="263.5" font-size="7.2" fill="#222">PSO</text>
<line x1="483.8" y1="269.2" x2="503.6" y2="269.2" stroke="#6CC8F0" stroke-width="1.3"/>
<text x="505.2" y="272.1" font-size="7.2" fill="#222">LO</text>
<line x1="483.8" y1="277.8" x2="503.6" y2="277.8" stroke="#77AC30" stroke-width="1.3"/>
<text x="505.2" y="280.7" font-size="7.2" fill="#222">WOA</text>
<line x1="483.8" y1="286.4" x2="503.6" y2="286.4" stroke="#4848AE" stroke-width="1.3"/>
<text x="505.2" y="289.3" font-size="7.2" fill="#222">DBO</text>
<line x1="483.8" y1="295.0" x2="503.6" y2="295.0" stroke="#222222" stroke-width="1.3"/>
<text x="505.2" y="297.9" font-size="7.2" fill="#222">ALA</text>
<line x1="483.8" y1="303.6" x2="503.6" y2="303.6" stroke="#FF1418" stroke-width="1.3"/>
<text x="505.2" y="306.5" font-size="7.2" fill="#222">MsIALA</text>
<text transform="translate(292.8,333.7) rotate(-90)" font-size="8.7" text-anchor="middle" fill="#222">Best Fitness Value</text>
<rect x="44.2" y="482.4" width="214.80" height="170.00" fill="none" stroke="#707070" stroke-width="1.15"/>
<line x1="65.7" y1="652.4" x2="65.7" y2="650.2" stroke="#5a5a5a" stroke-width="0.8"/>
<line x1="65.7" y1="482.4" x2="65.7" y2="484.6" stroke="#5a5a5a" stroke-width="0.8"/>
<line x1="87.2" y1="652.4" x2="87.2" y2="650.2" stroke="#5a5a5a" stroke-width="0.8"/>
<line x1="87.2" y1="482.4" x2="87.2" y2="484.6" stroke="#5a5a5a" stroke-width="0.8"/>
<line x1="108.6" y1="652.4" x2="108.6" y2="650.2" stroke="#5a5a5a" stroke-width="0.8"/>
<line x1="108.6" y1="482.4" x2="108.6" y2="484.6" stroke="#5a5a5a" stroke-width="0.8"/>
<line x1="130.1" y1="652.4" x2="130.1" y2="650.2" stroke="#5a5a5a" stroke-width="0.8"/>
<line x1="130.1" y1="482.4" x2="130.1" y2="484.6" stroke="#5a5a5a" stroke-width="0.8"/>
<line x1="151.6" y1="652.4" x2="151.6" y2="650.2" stroke="#5a5a5a" stroke-width="0.8"/>
<line x1="151.6" y1="482.4" x2="151.6" y2="484.6" stroke="#5a5a5a" stroke-width="0.8"/>
<line x1="173.1" y1="652.4" x2="173.1" y2="650.2" stroke="#5a5a5a" stroke-width="0.8"/>
<line x1="173.1" y1="482.4" x2="173.1" y2="484.6" stroke="#5a5a5a" stroke-width="0.8"/>
<line x1="194.6" y1="652.4" x2="194.6" y2="650.2" stroke="#5a5a5a" stroke-width="0.8"/>
<line x1="194.6" y1="482.4" x2="194.6" y2="484.6" stroke="#5a5a5a" stroke-width="0.8"/>
<line x1="216.0" y1="652.4" x2="216.0" y2="650.2" stroke="#5a5a5a" stroke-width="0.8"/>
<line x1="216.0" y1="482.4" x2="216.0" y2="484.6" stroke="#5a5a5a" stroke-width="0.8"/>
<line x1="237.5" y1="652.4" x2="237.5" y2="650.2" stroke="#5a5a5a" stroke-width="0.8"/>
<line x1="237.5" y1="482.4" x2="237.5" y2="484.6" stroke="#5a5a5a" stroke-width="0.8"/>
<text x="65.7" y="662.6" font-size="7.4" text-anchor="middle" font-weight="normal" fill="#3a3a3a" style="stroke-width:0.1px">100</text>
<text x="87.2" y="662.6" font-size="7.4" text-anchor="middle" font-weight="normal" fill="#3a3a3a" style="stroke-width:0.1px">200</text>
<text x="108.6" y="662.6" font-size="7.4" text-anchor="middle" font-weight="normal" fill="#3a3a3a" style="stroke-width:0.1px">300</text>
<text x="130.1" y="662.6" font-size="7.4" text-anchor="middle" font-weight="normal" fill="#3a3a3a" style="stroke-width:0.1px">400</text>
<text x="151.6" y="662.6" font-size="7.4" text-anchor="middle" font-weight="normal" fill="#3a3a3a" style="stroke-width:0.1px">500</text>
<text x="173.1" y="662.6" font-size="7.4" text-anchor="middle" font-weight="normal" fill="#3a3a3a" style="stroke-width:0.1px">600</text>
<text x="194.6" y="662.6" font-size="7.4" text-anchor="middle" font-weight="normal" fill="#3a3a3a" style="stroke-width:0.1px">700</text>
<text x="216.0" y="662.6" font-size="7.4" text-anchor="middle" font-weight="normal" fill="#3a3a3a" style="stroke-width:0.1px">800</text>
<text x="237.5" y="662.6" font-size="7.4" text-anchor="middle" font-weight="normal" fill="#3a3a3a" style="stroke-width:0.1px">900</text>
<text x="259.0" y="662.6" font-size="7.4" text-anchor="middle" font-weight="normal" fill="#3a3a3a" style="stroke-width:0.1px">1000</text>
<text x="151.6" y="673.6" font-size="8.4" text-anchor="middle" font-weight="normal" fill="#222" >Iteration</text>
<text x="151.0" y="479.0" font-size="8.4" text-anchor="middle" font-weight="normal" fill="#222" >F5</text>
<text x="146.6" y="692.8" font-size="12" text-anchor="middle" font-weight="bold" fill="#111" >(e)</text>
<line x1="44.2" y1="489.2" x2="45.5" y2="489.2" stroke="#5a5a5a" stroke-width="0.7"/>
<line x1="259.0" y1="489.2" x2="257.7" y2="489.2" stroke="#5a5a5a" stroke-width="0.7"/>
<line x1="44.2" y1="496.4" x2="45.5" y2="496.4" stroke="#5a5a5a" stroke-width="0.7"/>
<line x1="259.0" y1="496.4" x2="257.7" y2="496.4" stroke="#5a5a5a" stroke-width="0.7"/>
<line x1="44.2" y1="503.6" x2="45.5" y2="503.6" stroke="#5a5a5a" stroke-width="0.7"/>
<line x1="259.0" y1="503.6" x2="257.7" y2="503.6" stroke="#5a5a5a" stroke-width="0.7"/>
<line x1="44.2" y1="510.8" x2="45.5" y2="510.8" stroke="#5a5a5a" stroke-width="0.7"/>
<line x1="259.0" y1="510.8" x2="257.7" y2="510.8" stroke="#5a5a5a" stroke-width="0.7"/>
<line x1="44.2" y1="518.0" x2="45.5" y2="518.0" stroke="#5a5a5a" stroke-width="0.7"/>
<line x1="259.0" y1="518.0" x2="257.7" y2="518.0" stroke="#5a5a5a" stroke-width="0.7"/>
<line x1="44.2" y1="525.2" x2="45.5" y2="525.2" stroke="#5a5a5a" stroke-width="0.7"/>
<line x1="259.0" y1="525.2" x2="257.7" y2="525.2" stroke="#5a5a5a" stroke-width="0.7"/>
<line x1="44.2" y1="532.4" x2="45.5" y2="532.4" stroke="#5a5a5a" stroke-width="0.7"/>
<line x1="259.0" y1="532.4" x2="257.7" y2="532.4" stroke="#5a5a5a" stroke-width="0.7"/>
<line x1="44.2" y1="539.6" x2="45.5" y2="539.6" stroke="#5a5a5a" stroke-width="0.7"/>
<line x1="259.0" y1="539.6" x2="257.7" y2="539.6" stroke="#5a5a5a" stroke-width="0.7"/>
<line x1="44.2" y1="546.8" x2="45.5" y2="546.8" stroke="#5a5a5a" stroke-width="0.7"/>
<line x1="259.0" y1="546.8" x2="257.7" y2="546.8" stroke="#5a5a5a" stroke-width="0.7"/>
<line x1="44.2" y1="554.0" x2="45.5" y2="554.0" stroke="#5a5a5a" stroke-width="0.7"/>
<line x1="259.0" y1="554.0" x2="257.7" y2="554.0" stroke="#5a5a5a" stroke-width="0.7"/>
<line x1="44.2" y1="561.2" x2="45.5" y2="561.2" stroke="#5a5a5a" stroke-width="0.7"/>
<line x1="259.0" y1="561.2" x2="257.7" y2="561.2" stroke="#5a5a5a" stroke-width="0.7"/>
<line x1="44.2" y1="568.4" x2="45.5" y2="568.4" stroke="#5a5a5a" stroke-width="0.7"/>
<line x1="259.0" y1="568.4" x2="257.7" y2="568.4" stroke="#5a5a5a" stroke-width="0.7"/>
<line x1="44.2" y1="575.6" x2="45.5" y2="575.6" stroke="#5a5a5a" stroke-width="0.7"/>
<line x1="259.0" y1="575.6" x2="257.7" y2="575.6" stroke="#5a5a5a" stroke-width="0.7"/>
<line x1="44.2" y1="582.8" x2="45.5" y2="582.8" stroke="#5a5a5a" stroke-width="0.7"/>
<line x1="259.0" y1="582.8" x2="257.7" y2="582.8" stroke="#5a5a5a" stroke-width="0.7"/>
<line x1="44.2" y1="590.0" x2="45.5" y2="590.0" stroke="#5a5a5a" stroke-width="0.7"/>
<line x1="259.0" y1="590.0" x2="257.7" y2="590.0" stroke="#5a5a5a" stroke-width="0.7"/>
<line x1="44.2" y1="597.2" x2="45.5" y2="597.2" stroke="#5a5a5a" stroke-width="0.7"/>
<line x1="259.0" y1="597.2" x2="257.7" y2="597.2" stroke="#5a5a5a" stroke-width="0.7"/>
<line x1="44.2" y1="604.4" x2="45.5" y2="604.4" stroke="#5a5a5a" stroke-width="0.7"/>
<line x1="259.0" y1="604.4" x2="257.7" y2="604.4" stroke="#5a5a5a" stroke-width="0.7"/>
<line x1="44.2" y1="611.6" x2="45.5" y2="611.6" stroke="#5a5a5a" stroke-width="0.7"/>
<line x1="259.0" y1="611.6" x2="257.7" y2="611.6" stroke="#5a5a5a" stroke-width="0.7"/>
<line x1="44.2" y1="618.8" x2="45.5" y2="618.8" stroke="#5a5a5a" stroke-width="0.7"/>
<line x1="259.0" y1="618.8" x2="257.7" y2="618.8" stroke="#5a5a5a" stroke-width="0.7"/>
<line x1="44.2" y1="626.0" x2="45.5" y2="626.0" stroke="#5a5a5a" stroke-width="0.7"/>
<line x1="259.0" y1="626.0" x2="257.7" y2="626.0" stroke="#5a5a5a" stroke-width="0.7"/>
<line x1="44.2" y1="633.2" x2="45.5" y2="633.2" stroke="#5a5a5a" stroke-width="0.7"/>
<line x1="259.0" y1="633.2" x2="257.7" y2="633.2" stroke="#5a5a5a" stroke-width="0.7"/>
<line x1="44.2" y1="640.4" x2="45.5" y2="640.4" stroke="#5a5a5a" stroke-width="0.7"/>
<line x1="259.0" y1="640.4" x2="257.7" y2="640.4" stroke="#5a5a5a" stroke-width="0.7"/>
<line x1="44.2" y1="647.6" x2="45.5" y2="647.6" stroke="#5a5a5a" stroke-width="0.7"/>
<line x1="259.0" y1="647.6" x2="257.7" y2="647.6" stroke="#5a5a5a" stroke-width="0.7"/>
<line x1="44.2" y1="518.0" x2="46.6" y2="518.0" stroke="#5a5a5a" stroke-width="0.8"/>
<line x1="259.0" y1="518.0" x2="256.6" y2="518.0" stroke="#5a5a5a" stroke-width="0.8"/>
<text x="40.7" y="521.8" font-size="8" text-anchor="end" fill="#3a3a3a" style="stroke-width:0.1px">10<tspan font-size="6.4" dy="-3.4">0</tspan></text>
<line x1="44.2" y1="554.0" x2="46.6" y2="554.0" stroke="#5a5a5a" stroke-width="0.8"/>
<line x1="259.0" y1="554.0" x2="256.6" y2="554.0" stroke="#5a5a5a" stroke-width="0.8"/>
<text x="40.7" y="557.8" font-size="8" text-anchor="end" fill="#3a3a3a" style="stroke-width:0.1px">10<tspan font-size="6.4" dy="-3.4">−5</tspan></text>
<line x1="44.2" y1="590.0" x2="46.6" y2="590.0" stroke="#5a5a5a" stroke-width="0.8"/>
<line x1="259.0" y1="590.0" x2="256.6" y2="590.0" stroke="#5a5a5a" stroke-width="0.8"/>
<text x="40.7" y="593.8" font-size="8" text-anchor="end" fill="#3a3a3a" style="stroke-width:0.1px">10<tspan font-size="6.4" dy="-3.4">−10</tspan></text>
<line x1="44.2" y1="626.0" x2="46.6" y2="626.0" stroke="#5a5a5a" stroke-width="0.8"/>
<line x1="259.0" y1="626.0" x2="256.6" y2="626.0" stroke="#5a5a5a" stroke-width="0.8"/>
<text x="40.7" y="629.8" font-size="8" text-anchor="end" fill="#3a3a3a" style="stroke-width:0.1px">10<tspan font-size="6.4" dy="-3.4">−15</tspan></text>
<g clip-path="url(#c20)">
<polyline points="43.8,485.0 44.0,485.2 44.3,485.7 44.8,486.3 45.5,487.2 46.3,488.1 47.2,488.8 48.2,489.5 49.4,490.0 50.8,490.5 52.5,490.8 54.5,491.1 56.8,491.2 61.4,491.3 68.2,491.4 77.4,491.5 88.8,491.5 97.5,491.6 103.5,491.7 106.8,491.9 107.2,492.1 117.0,492.3 136.1,492.4 164.5,492.5 202.2,492.5 230.4,492.6 249.3,492.6 258.7,492.6" fill="none" stroke="#EBBA3C" stroke-width="1.3" stroke-linejoin="round" stroke-linecap="round"/>
<polyline points="43.8,483.2 44.0,483.4 44.5,483.7 45.2,484.2 46.1,484.9 47.0,485.5 47.9,486.0 48.8,486.4 49.8,486.8 50.7,487.1 51.7,487.5 52.8,487.8 53.9,488.1 55.0,488.5 56.2,488.9 57.3,489.3 58.5,489.8 59.6,490.3 60.8,490.8 61.9,491.3 63.0,491.9 64.1,492.4 65.3,492.9 66.4,493.4 67.6,493.8 68.7,494.3 69.9,494.8 71.0,495.4 72.1,495.9 73.2,496.5 74.4,497.1 75.5,497.7 76.7,498.2 77.8,498.7 79.0,499.1 80.1,499.4 81.2,499.7 82.3,499.9 83.5,500.3 84.6,500.7 85.8,501.1 86.8,501.5 87.7,501.9 88.4,502.1 89.1,502.4 90.1,502.7 91.6,503.2 93.4,503.7 95.7,504.5 98.0,505.2 100.2,505.9 102.5,506.7 104.8,507.4 106.8,508.2 108.5,509.0 109.9,509.8 111.0,510.6 112.4,511.4 114.1,512.1 116.1,512.8 118.4,513.5 120.7,514.2 122.9,515.1 125.2,516.0 127.5,517.1 129.6,518.0 131.7,518.9 133.6,519.8 135.3,520.6 137.2,521.5 139.3,522.4 141.4,523.3 143.7,524.4 145.7,525.3 147.5,526.2 149.1,527.1 150.5,527.9 152.1,528.7 153.9,529.4 155.9,530.1 158.2,530.8 160.2,531.5 162.1,532.3 163.7,533.2 165.0,534.1 166.5,535.0 168.1,535.8 169.8,536.5 171.7,537.2 173.3,537.8 174.8,538.5 176.1,539.1 177.2,539.6 178.4,540.3 179.8,540.9 181.2,541.7 182.7,542.4 184.1,543.1 185.5,543.8 186.7,544.3 187.8,544.8 188.9,545.3 190.1,546.0 191.2,546.7 192.4,547.4 193.7,548.2 195.2,549.0 196.8,549.8 198.7,550.6 200.3,551.4 201.8,552.2 203.1,553.0 204.2,553.8 205.4,554.5 206.7,555.2 208.0,555.9 209.3,556.4 210.6,557.1 211.7,557.8 212.8,558.5 213.6,559.3 214.7,560.1 216.0,560.8 217.4,561.5 219.0,562.2 220.6,562.8 222.2,563.3 223.8,563.7 225.4,564.0 227.1,564.5 228.8,565.2 230.5,566.0 232.4,567.0 234.3,568.0 236.3,569.0 238.4,570.0 240.5,571.0 242.4,571.9 244.1,572.8 245.4,573.6 246.6,574.3 247.7,575.0 249.0,575.6 250.4,576.1 251.8,576.5 253.2,577.0 254.6,577.5 255.9,578.0 257.1,578.6 258.1,579.0 258.7,579.3 259.0,579.4" fill="none" stroke="#6CC8F0" stroke-width="1.3" stroke-linejoin="round" stroke-linecap="round"/>
<polyline points="43.8,485.0 43.8,485.0 43.8,485.0 43.8,485.0 43.8,485.0 44.2,486.7 45.0,490.0 46.2,495.0 47.8,501.8 49.0,506.8 49.8,510.1 50.2,511.8 50.2,511.8 50.4,512.0 50.7,512.3 51.2,512.8 51.9,513.5 52.8,514.2 54.1,514.9 55.6,515.5 57.5,516.2 59.1,516.9 60.6,517.5 61.9,518.1 63.0,518.7 64.3,519.2 65.6,519.7 67.1,520.2 68.7,520.7 70.4,521.2 72.1,521.7 73.8,522.2 75.7,522.8 77.3,523.3 78.8,523.7 80.1,524.1 81.2,524.5 82.5,524.8 84.0,525.2 85.6,525.7 87.3,526.1 89.2,526.6 91.3,527.0 93.4,527.5 95.7,527.9 98.0,528.4 100.2,528.8 102.5,529.1 104.8,529.5 107.1,529.8 109.3,530.1 111.6,530.3 113.9,530.6 116.2,530.8 118.4,531.1 120.7,531.4 123.0,531.8 125.4,532.1 128.0,532.3 130.8,532.4 133.6,532.5 136.4,532.6 139.0,532.9 141.4,533.2 143.7,533.5 146.0,533.8 148.2,534.1 150.5,534.2 152.8,534.3 160.9,534.3 174.9,534.4 194.8,534.4 220.5,534.4 239.7,534.4 252.6,534.4 259.0,534.4" fill="none" stroke="#77AC30" stroke-width="1.3" stroke-linejoin="round" stroke-linecap="round"/>
<polyline points="43.8,484.5 43.8,484.5 43.8,484.5 43.8,484.5 43.8,484.5 43.9,486.1 44.1,489.3 44.3,494.1 44.7,500.4 44.9,505.2 45.1,508.4 45.2,510.0 45.2,510.0 45.2,510.0 45.2,510.0 45.2,510.0 45.2,510.0 45.5,510.2 46.1,510.6 47.1,511.2 48.3,512.0 49.8,512.8 51.4,513.6 53.3,514.4 55.3,515.2 57.1,516.0 58.7,516.7 60.1,517.4 61.2,518.1 62.5,518.8 63.8,519.5 65.3,520.3 66.9,521.1 68.4,521.8 69.7,522.5 71.0,523.1 72.1,523.7 73.2,524.3 74.4,525.1 75.5,525.9 76.7,526.8 77.7,527.6 78.6,528.3 79.4,528.9 80.1,529.3 81.1,529.9 82.6,530.7 84.4,531.5 86.7,532.6 88.6,533.6 90.3,534.5 91.7,535.5 92.8,536.4 93.9,537.3 95.1,538.2 96.2,539.1 97.4,540.0 98.5,540.8 99.7,541.5 100.9,542.1 102.2,542.5 103.5,543.1 104.9,543.7 106.4,544.4 108.1,545.3 109.5,546.1 110.7,547.0 111.7,547.9 112.6,548.9 113.6,549.9 114.8,550.9 116.3,551.9 117.9,553.0 119.6,554.0 121.2,555.0 122.8,555.8 124.5,556.7 126.1,557.4 127.7,558.2 129.4,558.9 131.0,559.6 132.5,560.3 133.7,561.1 134.7,561.8 135.5,562.7 136.4,563.5 137.5,564.3 138.8,565.1 140.1,566.0 141.5,566.8 142.9,567.5 144.2,568.2 145.6,568.9 146.9,569.7 148.3,570.6 149.7,571.5 151.0,572.6 152.5,573.9 154.0,575.3 155.7,576.8 157.4,578.5 159.0,580.0 160.5,581.2 161.9,582.3 163.1,583.2 164.4,584.0 165.6,584.8 166.9,585.4 168.1,586.1 169.4,586.7 170.8,587.4 172.2,588.1 173.8,588.9 175.1,589.6 176.4,590.4 177.5,591.1 178.5,591.9 179.6,592.6 180.7,593.4 181.9,594.1 183.1,594.9 184.4,595.7 185.8,596.6 187.2,597.5 188.8,598.5 190.2,599.4 191.6,600.3 192.9,601.1 194.1,601.9 195.4,602.7 196.6,603.6 197.9,604.5 199.1,605.5 200.3,606.4 201.4,607.3 202.5,608.1 203.5,608.8 204.6,609.7 205.7,610.7 207.0,611.8 208.2,613.1 209.7,614.3 211.2,615.5 212.9,616.6 214.7,617.6 216.6,618.8 218.5,620.1 220.5,621.5 222.6,623.1 224.7,624.6 226.7,626.0 228.8,627.4 230.9,628.6 233.0,629.7 235.0,630.5 237.1,631.0 239.2,631.2 241.5,631.5 243.9,631.6 246.6,631.8 249.4,632.0 251.6,632.1 253.0,632.2 253.7,632.2 253.7,632.2 253.7,632.2 253.7,632.2 253.7,632.2 253.7,632.2 253.8,632.5 253.9,633.1 254.1,633.9 254.3,635.1 254.6,636.2 254.8,637.4 255.1,638.6 255.4,639.7 255.8,640.7 256.3,641.6 257.0,642.2 257.8,642.8 258.4,643.1 258.8,643.4 259.0,643.5" fill="none" stroke="#4848AE" stroke-width="1.3" stroke-linejoin="round" stroke-linecap="round"/>
<polyline points="43.8,484.5 44.3,484.7 45.2,485.0 46.5,485.5 48.4,486.3 50.2,486.9 52.2,487.5 54.2,488.1 56.2,488.7 57.9,489.2 59.1,489.7 60.0,490.2 60.4,490.7 61.2,491.2 62.2,491.8 63.5,492.4 65.1,493.1 66.4,493.7 67.3,494.4 68.0,495.0 68.3,495.5 68.8,496.0 69.3,496.3 70.0,496.5 70.8,496.7 71.5,496.8 72.1,496.9 72.7,497.1 73.1,497.4 73.8,497.6 74.7,498.0 75.9,498.4 77.2,498.8 78.3,499.5 79.1,500.2 79.6,501.2 79.9,502.4 80.1,503.3 80.5,504.1 80.9,504.6 81.3,505.0 81.9,505.3 82.6,505.5 83.3,505.7 84.2,505.8 85.0,505.9 85.7,506.1 86.3,506.4 86.8,506.8 87.3,507.1 87.8,507.4 88.4,507.6 89.1,507.9 89.8,508.2 90.5,508.6 91.4,509.2 92.2,509.9 93.3,510.4 94.4,510.9 95.7,511.2 97.0,511.5 98.3,511.7 99.6,512.0 100.8,512.3 101.9,512.7 103.2,513.2 104.5,513.8 106.0,514.6 107.6,515.4 109.3,516.2 111.0,516.9 112.7,517.5 114.6,517.9 116.5,518.4 118.5,518.8 120.7,519.3 123.0,519.8 125.0,520.3 126.8,520.7 128.4,521.2 129.8,521.6 131.0,522.2 132.2,522.9 133.2,523.6 134.1,524.5 135.0,525.3 135.7,525.9 136.4,526.4 137.1,526.8 137.8,527.1 138.7,527.5 139.7,527.8 140.8,528.1 141.9,528.5 143.1,529.0 144.2,529.5 145.4,530.0 146.7,530.8 148.2,531.6 149.8,532.6 151.7,533.8 153.3,534.8 154.6,535.8 155.8,536.7 156.6,537.4 157.7,538.3 159.0,539.3 160.4,540.3 162.0,541.5 163.7,542.6 165.5,543.8 167.4,544.9 169.5,546.0 171.4,547.2 173.2,548.5 174.9,549.8 176.5,551.1 178.0,552.5 179.4,553.7 180.6,554.9 181.8,556.0 182.9,557.0 183.9,557.9 184.8,558.6 185.7,559.1 186.7,559.9 187.9,560.8 189.2,561.9 190.8,563.1 192.3,564.4 193.9,565.6 195.6,566.9 197.4,568.1 199.0,569.4 200.5,570.8 201.9,572.2 203.1,573.8 204.4,575.2 205.6,576.8 206.9,578.2 208.1,579.8 209.2,581.1 210.1,582.2 210.9,583.1 211.4,583.9 212.2,584.8 213.1,585.8 214.2,587.0 215.5,588.2 216.7,589.6 217.9,590.9 219.0,592.1 220.0,593.4 221.1,594.8 222.3,596.2 223.5,597.7 224.9,599.3 226.0,600.8 227.1,602.2 228.0,603.6 228.7,604.9 229.7,606.2 230.9,607.6 232.2,609.1 233.8,610.7 235.3,612.1 236.7,613.3 238.0,614.3 239.4,615.2 240.7,616.2 242.1,617.0 243.6,618.0 245.2,618.9 246.3,619.5 247.1,620.0 247.5,620.2 247.5,620.2 248.2,620.2 249.7,620.2 251.8,620.2 254.7,620.2 256.8,620.2 258.3,620.2 259.0,620.2" fill="none" stroke="#222222" stroke-width="1.3" stroke-linejoin="round" stroke-linecap="round"/>
<polyline points="43.8,491.8 43.8,491.8 43.8,491.8 43.8,491.8 43.8,491.8 43.8,493.0 43.9,495.5 44.0,499.2 44.1,504.0 44.2,507.7 44.3,510.2 44.3,511.4 44.3,511.4 44.3,511.4 44.3,511.4 44.3,511.4 44.3,511.4 44.7,511.5 45.6,511.8 46.8,512.2 48.6,512.8 50.4,513.3 52.4,513.7 54.5,514.1 56.8,514.5 59.1,514.8 61.3,515.1 63.6,515.3 65.9,515.6 67.9,515.8 69.6,516.1 71.0,516.4 72.1,516.8 73.2,517.1 74.4,517.4 75.5,517.6 76.7,517.9 77.8,518.1 79.0,518.3 80.1,518.5 81.2,518.8 82.5,519.0 84.0,519.3 85.6,519.6 87.3,520.0 88.8,520.4 90.1,520.8 91.0,521.3 91.7,521.9 92.6,522.3 93.7,522.7 95.1,523.0 96.7,523.3 98.5,523.6 100.4,524.0 102.5,524.5 104.8,525.0 107.1,525.6 109.3,526.1 111.6,526.6 113.9,527.0 116.0,527.5 118.1,527.9 120.0,528.4 121.8,528.8 123.6,529.4 125.2,530.0 126.9,530.7 128.5,531.5 130.0,532.3 131.4,533.0 132.7,533.8 133.8,534.5 135.1,535.3 136.5,536.4 138.1,537.6 139.7,538.9 141.4,540.3 143.2,541.6 145.0,543.0 147.0,544.2 148.5,545.5 149.8,546.7 150.8,547.8 151.5,548.9 152.2,550.0 152.9,551.1 153.6,552.2 154.2,553.3 155.0,554.4 155.8,555.3 156.6,556.2 157.4,557.0 158.3,557.8 159.2,558.6 160.1,559.4 161.1,560.2 161.9,561.0 162.7,561.9 163.4,562.8 164.1,563.7 164.8,564.6 165.8,565.5 166.9,566.5 168.1,567.5 169.4,568.6 170.6,569.7 171.9,570.9 173.1,572.1 174.4,573.4 175.6,574.6 176.9,575.9 178.1,577.1 179.4,578.4 180.6,579.6 181.9,580.9 183.1,582.1 184.4,583.4 185.6,584.8 186.9,586.2 188.1,587.8 189.4,589.2 190.6,590.8 191.9,592.2 193.1,593.8 194.2,595.2 195.2,596.6 196.1,597.9 196.9,599.1 197.7,600.4 198.6,601.6 199.5,602.9 200.5,604.1 201.4,605.4 202.3,606.6 203.1,607.8 203.9,609.1 204.8,610.4 205.8,612.0 207.0,613.6 208.2,615.5 209.5,617.4 210.8,619.3 212.1,621.3 213.5,623.4 214.8,625.5 216.2,627.5 217.7,629.6 219.3,631.6 220.9,633.6 222.6,635.4 224.3,637.1 226.1,638.6 227.9,640.1 229.7,641.6 231.5,642.9 233.4,644.2 235.2,645.4 237.0,646.6 238.8,647.7 240.6,648.7 242.4,649.6 244.2,650.4 246.0,650.9 247.9,651.4 249.8,651.7 251.7,651.9 253.7,652.0 255.8,652.0 257.4,652.0 258.5,652.0 259.0,652.0" fill="none" stroke="#FF1418" stroke-width="1.3" stroke-linejoin="round" stroke-linecap="round"/>
</g>
<rect x="47" y="595" width="51.5" height="53.6" fill="#fff" stroke="#707070" stroke-width="1.0"/>
<line x1="49.2" y1="600.2" x2="69.0" y2="600.2" stroke="#EBBA3C" stroke-width="1.3"/>
<text x="70.6" y="603.1" font-size="7.2" fill="#222">PSO</text>
<line x1="49.2" y1="608.8" x2="69.0" y2="608.8" stroke="#6CC8F0" stroke-width="1.3"/>
<text x="70.6" y="611.7" font-size="7.2" fill="#222">LO</text>
<line x1="49.2" y1="617.4" x2="69.0" y2="617.4" stroke="#77AC30" stroke-width="1.3"/>
<text x="70.6" y="620.3" font-size="7.2" fill="#222">WOA</text>
<line x1="49.2" y1="626.0" x2="69.0" y2="626.0" stroke="#4848AE" stroke-width="1.3"/>
<text x="70.6" y="628.9" font-size="7.2" fill="#222">DBO</text>
<line x1="49.2" y1="634.6" x2="69.0" y2="634.6" stroke="#222222" stroke-width="1.3"/>
<text x="70.6" y="637.5" font-size="7.2" fill="#222">ALA</text>
<line x1="49.2" y1="643.2" x2="69.0" y2="643.2" stroke="#FF1418" stroke-width="1.3"/>
<text x="70.6" y="646.1" font-size="7.2" fill="#222">MsIALA</text>
<text transform="translate(18.0,567.9) rotate(-90)" font-size="8.7" text-anchor="middle" fill="#222">Best Fitness Value</text>
<rect x="322.0" y="482.4" width="215.00" height="170.00" fill="none" stroke="#707070" stroke-width="1.15"/>
<line x1="343.5" y1="652.4" x2="343.5" y2="650.2" stroke="#5a5a5a" stroke-width="0.8"/>
<line x1="343.5" y1="482.4" x2="343.5" y2="484.6" stroke="#5a5a5a" stroke-width="0.8"/>
<line x1="365.0" y1="652.4" x2="365.0" y2="650.2" stroke="#5a5a5a" stroke-width="0.8"/>
<line x1="365.0" y1="482.4" x2="365.0" y2="484.6" stroke="#5a5a5a" stroke-width="0.8"/>
<line x1="386.5" y1="652.4" x2="386.5" y2="650.2" stroke="#5a5a5a" stroke-width="0.8"/>
<line x1="386.5" y1="482.4" x2="386.5" y2="484.6" stroke="#5a5a5a" stroke-width="0.8"/>
<line x1="408.0" y1="652.4" x2="408.0" y2="650.2" stroke="#5a5a5a" stroke-width="0.8"/>
<line x1="408.0" y1="482.4" x2="408.0" y2="484.6" stroke="#5a5a5a" stroke-width="0.8"/>
<line x1="429.5" y1="652.4" x2="429.5" y2="650.2" stroke="#5a5a5a" stroke-width="0.8"/>
<line x1="429.5" y1="482.4" x2="429.5" y2="484.6" stroke="#5a5a5a" stroke-width="0.8"/>
<line x1="451.0" y1="652.4" x2="451.0" y2="650.2" stroke="#5a5a5a" stroke-width="0.8"/>
<line x1="451.0" y1="482.4" x2="451.0" y2="484.6" stroke="#5a5a5a" stroke-width="0.8"/>
<line x1="472.5" y1="652.4" x2="472.5" y2="650.2" stroke="#5a5a5a" stroke-width="0.8"/>
<line x1="472.5" y1="482.4" x2="472.5" y2="484.6" stroke="#5a5a5a" stroke-width="0.8"/>
<line x1="494.0" y1="652.4" x2="494.0" y2="650.2" stroke="#5a5a5a" stroke-width="0.8"/>
<line x1="494.0" y1="482.4" x2="494.0" y2="484.6" stroke="#5a5a5a" stroke-width="0.8"/>
<line x1="515.5" y1="652.4" x2="515.5" y2="650.2" stroke="#5a5a5a" stroke-width="0.8"/>
<line x1="515.5" y1="482.4" x2="515.5" y2="484.6" stroke="#5a5a5a" stroke-width="0.8"/>
<text x="343.5" y="662.6" font-size="7.4" text-anchor="middle" font-weight="normal" fill="#3a3a3a" style="stroke-width:0.1px">100</text>
<text x="365.0" y="662.6" font-size="7.4" text-anchor="middle" font-weight="normal" fill="#3a3a3a" style="stroke-width:0.1px">200</text>
<text x="386.5" y="662.6" font-size="7.4" text-anchor="middle" font-weight="normal" fill="#3a3a3a" style="stroke-width:0.1px">300</text>
<text x="408.0" y="662.6" font-size="7.4" text-anchor="middle" font-weight="normal" fill="#3a3a3a" style="stroke-width:0.1px">400</text>
<text x="429.5" y="662.6" font-size="7.4" text-anchor="middle" font-weight="normal" fill="#3a3a3a" style="stroke-width:0.1px">500</text>
<text x="451.0" y="662.6" font-size="7.4" text-anchor="middle" font-weight="normal" fill="#3a3a3a" style="stroke-width:0.1px">600</text>
<text x="472.5" y="662.6" font-size="7.4" text-anchor="middle" font-weight="normal" fill="#3a3a3a" style="stroke-width:0.1px">700</text>
<text x="494.0" y="662.6" font-size="7.4" text-anchor="middle" font-weight="normal" fill="#3a3a3a" style="stroke-width:0.1px">800</text>
<text x="515.5" y="662.6" font-size="7.4" text-anchor="middle" font-weight="normal" fill="#3a3a3a" style="stroke-width:0.1px">900</text>
<text x="537.0" y="662.6" font-size="7.4" text-anchor="middle" font-weight="normal" fill="#3a3a3a" style="stroke-width:0.1px">1000</text>
<text x="429.5" y="673.6" font-size="8.4" text-anchor="middle" font-weight="normal" fill="#222" >Iteration</text>
<text x="428.9" y="479.0" font-size="8.4" text-anchor="middle" font-weight="normal" fill="#222" >F6</text>
<text x="424.5" y="692.8" font-size="12" text-anchor="middle" font-weight="bold" fill="#111" >(f)</text>
<line x1="322.0" y1="651.8" x2="323.3" y2="651.8" stroke="#5a5a5a" stroke-width="0.7"/>
<line x1="537.0" y1="651.8" x2="535.7" y2="651.8" stroke="#5a5a5a" stroke-width="0.7"/>
<line x1="322.0" y1="649.0" x2="323.3" y2="649.0" stroke="#5a5a5a" stroke-width="0.7"/>
<line x1="537.0" y1="649.0" x2="535.7" y2="649.0" stroke="#5a5a5a" stroke-width="0.7"/>
<line x1="322.0" y1="646.8" x2="323.3" y2="646.8" stroke="#5a5a5a" stroke-width="0.7"/>
<line x1="537.0" y1="646.8" x2="535.7" y2="646.8" stroke="#5a5a5a" stroke-width="0.7"/>
<line x1="322.0" y1="645.0" x2="323.3" y2="645.0" stroke="#5a5a5a" stroke-width="0.7"/>
<line x1="537.0" y1="645.0" x2="535.7" y2="645.0" stroke="#5a5a5a" stroke-width="0.7"/>
<line x1="322.0" y1="643.6" x2="323.3" y2="643.6" stroke="#5a5a5a" stroke-width="0.7"/>
<line x1="537.0" y1="643.6" x2="535.7" y2="643.6" stroke="#5a5a5a" stroke-width="0.7"/>
<line x1="322.0" y1="642.3" x2="323.3" y2="642.3" stroke="#5a5a5a" stroke-width="0.7"/>
<line x1="537.0" y1="642.3" x2="535.7" y2="642.3" stroke="#5a5a5a" stroke-width="0.7"/>
<line x1="322.0" y1="641.1" x2="323.3" y2="641.1" stroke="#5a5a5a" stroke-width="0.7"/>
<line x1="537.0" y1="641.1" x2="535.7" y2="641.1" stroke="#5a5a5a" stroke-width="0.7"/>
<line x1="322.0" y1="633.4" x2="323.3" y2="633.4" stroke="#5a5a5a" stroke-width="0.7"/>
<line x1="537.0" y1="633.4" x2="535.7" y2="633.4" stroke="#5a5a5a" stroke-width="0.7"/>
<line x1="322.0" y1="629.5" x2="323.3" y2="629.5" stroke="#5a5a5a" stroke-width="0.7"/>
<line x1="537.0" y1="629.5" x2="535.7" y2="629.5" stroke="#5a5a5a" stroke-width="0.7"/>
<line x1="322.0" y1="626.7" x2="323.3" y2="626.7" stroke="#5a5a5a" stroke-width="0.7"/>
<line x1="537.0" y1="626.7" x2="535.7" y2="626.7" stroke="#5a5a5a" stroke-width="0.7"/>
<line x1="322.0" y1="624.5" x2="323.3" y2="624.5" stroke="#5a5a5a" stroke-width="0.7"/>
<line x1="537.0" y1="624.5" x2="535.7" y2="624.5" stroke="#5a5a5a" stroke-width="0.7"/>
<line x1="322.0" y1="622.7" x2="323.3" y2="622.7" stroke="#5a5a5a" stroke-width="0.7"/>
<line x1="537.0" y1="622.7" x2="535.7" y2="622.7" stroke="#5a5a5a" stroke-width="0.7"/>
<line x1="322.0" y1="621.3" x2="323.3" y2="621.3" stroke="#5a5a5a" stroke-width="0.7"/>
<line x1="537.0" y1="621.3" x2="535.7" y2="621.3" stroke="#5a5a5a" stroke-width="0.7"/>
<line x1="322.0" y1="620.0" x2="323.3" y2="620.0" stroke="#5a5a5a" stroke-width="0.7"/>
<line x1="537.0" y1="620.0" x2="535.7" y2="620.0" stroke="#5a5a5a" stroke-width="0.7"/>
<line x1="322.0" y1="618.8" x2="323.3" y2="618.8" stroke="#5a5a5a" stroke-width="0.7"/>
<line x1="537.0" y1="618.8" x2="535.7" y2="618.8" stroke="#5a5a5a" stroke-width="0.7"/>
<line x1="322.0" y1="611.1" x2="323.3" y2="611.1" stroke="#5a5a5a" stroke-width="0.7"/>
<line x1="537.0" y1="611.1" x2="535.7" y2="611.1" stroke="#5a5a5a" stroke-width="0.7"/>
<line x1="322.0" y1="607.2" x2="323.3" y2="607.2" stroke="#5a5a5a" stroke-width="0.7"/>
<line x1="537.0" y1="607.2" x2="535.7" y2="607.2" stroke="#5a5a5a" stroke-width="0.7"/>
<line x1="322.0" y1="604.4" x2="323.3" y2="604.4" stroke="#5a5a5a" stroke-width="0.7"/>
<line x1="537.0" y1="604.4" x2="535.7" y2="604.4" stroke="#5a5a5a" stroke-width="0.7"/>
<line x1="322.0" y1="602.2" x2="323.3" y2="602.2" stroke="#5a5a5a" stroke-width="0.7"/>
<line x1="537.0" y1="602.2" x2="535.7" y2="602.2" stroke="#5a5a5a" stroke-width="0.7"/>
<line x1="322.0" y1="600.4" x2="323.3" y2="600.4" stroke="#5a5a5a" stroke-width="0.7"/>
<line x1="537.0" y1="600.4" x2="535.7" y2="600.4" stroke="#5a5a5a" stroke-width="0.7"/>
<line x1="322.0" y1="599.0" x2="323.3" y2="599.0" stroke="#5a5a5a" stroke-width="0.7"/>
<line x1="537.0" y1="599.0" x2="535.7" y2="599.0" stroke="#5a5a5a" stroke-width="0.7"/>
<line x1="322.0" y1="597.7" x2="323.3" y2="597.7" stroke="#5a5a5a" stroke-width="0.7"/>
<line x1="537.0" y1="597.7" x2="535.7" y2="597.7" stroke="#5a5a5a" stroke-width="0.7"/>
<line x1="322.0" y1="596.5" x2="323.3" y2="596.5" stroke="#5a5a5a" stroke-width="0.7"/>
<line x1="537.0" y1="596.5" x2="535.7" y2="596.5" stroke="#5a5a5a" stroke-width="0.7"/>
<line x1="322.0" y1="588.8" x2="323.3" y2="588.8" stroke="#5a5a5a" stroke-width="0.7"/>
<line x1="537.0" y1="588.8" x2="535.7" y2="588.8" stroke="#5a5a5a" stroke-width="0.7"/>
<line x1="322.0" y1="584.9" x2="323.3" y2="584.9" stroke="#5a5a5a" stroke-width="0.7"/>
<line x1="537.0" y1="584.9" x2="535.7" y2="584.9" stroke="#5a5a5a" stroke-width="0.7"/>
<line x1="322.0" y1="582.1" x2="323.3" y2="582.1" stroke="#5a5a5a" stroke-width="0.7"/>
<line x1="537.0" y1="582.1" x2="535.7" y2="582.1" stroke="#5a5a5a" stroke-width="0.7"/>
<line x1="322.0" y1="579.9" x2="323.3" y2="579.9" stroke="#5a5a5a" stroke-width="0.7"/>
<line x1="537.0" y1="579.9" x2="535.7" y2="579.9" stroke="#5a5a5a" stroke-width="0.7"/>
<line x1="322.0" y1="578.1" x2="323.3" y2="578.1" stroke="#5a5a5a" stroke-width="0.7"/>
<line x1="537.0" y1="578.1" x2="535.7" y2="578.1" stroke="#5a5a5a" stroke-width="0.7"/>
<line x1="322.0" y1="576.7" x2="323.3" y2="576.7" stroke="#5a5a5a" stroke-width="0.7"/>
<line x1="537.0" y1="576.7" x2="535.7" y2="576.7" stroke="#5a5a5a" stroke-width="0.7"/>
<line x1="322.0" y1="575.4" x2="323.3" y2="575.4" stroke="#5a5a5a" stroke-width="0.7"/>
<line x1="537.0" y1="575.4" x2="535.7" y2="575.4" stroke="#5a5a5a" stroke-width="0.7"/>
<line x1="322.0" y1="574.2" x2="323.3" y2="574.2" stroke="#5a5a5a" stroke-width="0.7"/>
<line x1="537.0" y1="574.2" x2="535.7" y2="574.2" stroke="#5a5a5a" stroke-width="0.7"/>
<line x1="322.0" y1="566.5" x2="323.3" y2="566.5" stroke="#5a5a5a" stroke-width="0.7"/>
<line x1="537.0" y1="566.5" x2="535.7" y2="566.5" stroke="#5a5a5a" stroke-width="0.7"/>
<line x1="322.0" y1="562.6" x2="323.3" y2="562.6" stroke="#5a5a5a" stroke-width="0.7"/>
<line x1="537.0" y1="562.6" x2="535.7" y2="562.6" stroke="#5a5a5a" stroke-width="0.7"/>
<line x1="322.0" y1="559.8" x2="323.3" y2="559.8" stroke="#5a5a5a" stroke-width="0.7"/>
<line x1="537.0" y1="559.8" x2="535.7" y2="559.8" stroke="#5a5a5a" stroke-width="0.7"/>
<line x1="322.0" y1="557.6" x2="323.3" y2="557.6" stroke="#5a5a5a" stroke-width="0.7"/>
<line x1="537.0" y1="557.6" x2="535.7" y2="557.6" stroke="#5a5a5a" stroke-width="0.7"/>
<line x1="322.0" y1="555.8" x2="323.3" y2="555.8" stroke="#5a5a5a" stroke-width="0.7"/>
<line x1="537.0" y1="555.8" x2="535.7" y2="555.8" stroke="#5a5a5a" stroke-width="0.7"/>
<line x1="322.0" y1="554.4" x2="323.3" y2="554.4" stroke="#5a5a5a" stroke-width="0.7"/>
<line x1="537.0" y1="554.4" x2="535.7" y2="554.4" stroke="#5a5a5a" stroke-width="0.7"/>
<line x1="322.0" y1="553.1" x2="323.3" y2="553.1" stroke="#5a5a5a" stroke-width="0.7"/>
<line x1="537.0" y1="553.1" x2="535.7" y2="553.1" stroke="#5a5a5a" stroke-width="0.7"/>
<line x1="322.0" y1="551.9" x2="323.3" y2="551.9" stroke="#5a5a5a" stroke-width="0.7"/>
<line x1="537.0" y1="551.9" x2="535.7" y2="551.9" stroke="#5a5a5a" stroke-width="0.7"/>
<line x1="322.0" y1="544.2" x2="323.3" y2="544.2" stroke="#5a5a5a" stroke-width="0.7"/>
<line x1="537.0" y1="544.2" x2="535.7" y2="544.2" stroke="#5a5a5a" stroke-width="0.7"/>
<line x1="322.0" y1="540.3" x2="323.3" y2="540.3" stroke="#5a5a5a" stroke-width="0.7"/>
<line x1="537.0" y1="540.3" x2="535.7" y2="540.3" stroke="#5a5a5a" stroke-width="0.7"/>
<line x1="322.0" y1="537.5" x2="323.3" y2="537.5" stroke="#5a5a5a" stroke-width="0.7"/>
<line x1="537.0" y1="537.5" x2="535.7" y2="537.5" stroke="#5a5a5a" stroke-width="0.7"/>
<line x1="322.0" y1="535.3" x2="323.3" y2="535.3" stroke="#5a5a5a" stroke-width="0.7"/>
<line x1="537.0" y1="535.3" x2="535.7" y2="535.3" stroke="#5a5a5a" stroke-width="0.7"/>
<line x1="322.0" y1="533.5" x2="323.3" y2="533.5" stroke="#5a5a5a" stroke-width="0.7"/>
<line x1="537.0" y1="533.5" x2="535.7" y2="533.5" stroke="#5a5a5a" stroke-width="0.7"/>
<line x1="322.0" y1="532.1" x2="323.3" y2="532.1" stroke="#5a5a5a" stroke-width="0.7"/>
<line x1="537.0" y1="532.1" x2="535.7" y2="532.1" stroke="#5a5a5a" stroke-width="0.7"/>
<line x1="322.0" y1="530.8" x2="323.3" y2="530.8" stroke="#5a5a5a" stroke-width="0.7"/>
<line x1="537.0" y1="530.8" x2="535.7" y2="530.8" stroke="#5a5a5a" stroke-width="0.7"/>
<line x1="322.0" y1="529.6" x2="323.3" y2="529.6" stroke="#5a5a5a" stroke-width="0.7"/>
<line x1="537.0" y1="529.6" x2="535.7" y2="529.6" stroke="#5a5a5a" stroke-width="0.7"/>
<line x1="322.0" y1="521.9" x2="323.3" y2="521.9" stroke="#5a5a5a" stroke-width="0.7"/>
<line x1="537.0" y1="521.9" x2="535.7" y2="521.9" stroke="#5a5a5a" stroke-width="0.7"/>
<line x1="322.0" y1="518.0" x2="323.3" y2="518.0" stroke="#5a5a5a" stroke-width="0.7"/>
<line x1="537.0" y1="518.0" x2="535.7" y2="518.0" stroke="#5a5a5a" stroke-width="0.7"/>
<line x1="322.0" y1="515.2" x2="323.3" y2="515.2" stroke="#5a5a5a" stroke-width="0.7"/>
<line x1="537.0" y1="515.2" x2="535.7" y2="515.2" stroke="#5a5a5a" stroke-width="0.7"/>
<line x1="322.0" y1="513.0" x2="323.3" y2="513.0" stroke="#5a5a5a" stroke-width="0.7"/>
<line x1="537.0" y1="513.0" x2="535.7" y2="513.0" stroke="#5a5a5a" stroke-width="0.7"/>
<line x1="322.0" y1="511.2" x2="323.3" y2="511.2" stroke="#5a5a5a" stroke-width="0.7"/>
<line x1="537.0" y1="511.2" x2="535.7" y2="511.2" stroke="#5a5a5a" stroke-width="0.7"/>
<line x1="322.0" y1="509.8" x2="323.3" y2="509.8" stroke="#5a5a5a" stroke-width="0.7"/>
<line x1="537.0" y1="509.8" x2="535.7" y2="509.8" stroke="#5a5a5a" stroke-width="0.7"/>
<line x1="322.0" y1="508.5" x2="323.3" y2="508.5" stroke="#5a5a5a" stroke-width="0.7"/>
<line x1="537.0" y1="508.5" x2="535.7" y2="508.5" stroke="#5a5a5a" stroke-width="0.7"/>
<line x1="322.0" y1="507.3" x2="323.3" y2="507.3" stroke="#5a5a5a" stroke-width="0.7"/>
<line x1="537.0" y1="507.3" x2="535.7" y2="507.3" stroke="#5a5a5a" stroke-width="0.7"/>
<line x1="322.0" y1="499.6" x2="323.3" y2="499.6" stroke="#5a5a5a" stroke-width="0.7"/>
<line x1="537.0" y1="499.6" x2="535.7" y2="499.6" stroke="#5a5a5a" stroke-width="0.7"/>
<line x1="322.0" y1="495.7" x2="323.3" y2="495.7" stroke="#5a5a5a" stroke-width="0.7"/>
<line x1="537.0" y1="495.7" x2="535.7" y2="495.7" stroke="#5a5a5a" stroke-width="0.7"/>
<line x1="322.0" y1="492.9" x2="323.3" y2="492.9" stroke="#5a5a5a" stroke-width="0.7"/>
<line x1="537.0" y1="492.9" x2="535.7" y2="492.9" stroke="#5a5a5a" stroke-width="0.7"/>
<line x1="322.0" y1="490.7" x2="323.3" y2="490.7" stroke="#5a5a5a" stroke-width="0.7"/>
<line x1="537.0" y1="490.7" x2="535.7" y2="490.7" stroke="#5a5a5a" stroke-width="0.7"/>
<line x1="322.0" y1="488.9" x2="323.3" y2="488.9" stroke="#5a5a5a" stroke-width="0.7"/>
<line x1="537.0" y1="488.9" x2="535.7" y2="488.9" stroke="#5a5a5a" stroke-width="0.7"/>
<line x1="322.0" y1="487.5" x2="323.3" y2="487.5" stroke="#5a5a5a" stroke-width="0.7"/>
<line x1="537.0" y1="487.5" x2="535.7" y2="487.5" stroke="#5a5a5a" stroke-width="0.7"/>
<line x1="322.0" y1="486.2" x2="323.3" y2="486.2" stroke="#5a5a5a" stroke-width="0.7"/>
<line x1="537.0" y1="486.2" x2="535.7" y2="486.2" stroke="#5a5a5a" stroke-width="0.7"/>
<line x1="322.0" y1="485.0" x2="323.3" y2="485.0" stroke="#5a5a5a" stroke-width="0.7"/>
<line x1="537.0" y1="485.0" x2="535.7" y2="485.0" stroke="#5a5a5a" stroke-width="0.7"/>
<line x1="322.0" y1="484.0" x2="324.4" y2="484.0" stroke="#5a5a5a" stroke-width="0.8"/>
<line x1="537.0" y1="484.0" x2="534.6" y2="484.0" stroke="#5a5a5a" stroke-width="0.8"/>
<text x="318.5" y="487.8" font-size="8" text-anchor="end" fill="#3a3a3a" style="stroke-width:0.1px">10<tspan font-size="6.4" dy="-3.4">2</tspan></text>
<line x1="322.0" y1="528.6" x2="324.4" y2="528.6" stroke="#5a5a5a" stroke-width="0.8"/>
<line x1="537.0" y1="528.6" x2="534.6" y2="528.6" stroke="#5a5a5a" stroke-width="0.8"/>
<text x="318.5" y="532.4" font-size="8" text-anchor="end" fill="#3a3a3a" style="stroke-width:0.1px">10<tspan font-size="6.4" dy="-3.4">0</tspan></text>
<line x1="322.0" y1="573.2" x2="324.4" y2="573.2" stroke="#5a5a5a" stroke-width="0.8"/>
<line x1="537.0" y1="573.2" x2="534.6" y2="573.2" stroke="#5a5a5a" stroke-width="0.8"/>
<text x="318.5" y="577.0" font-size="8" text-anchor="end" fill="#3a3a3a" style="stroke-width:0.1px">10<tspan font-size="6.4" dy="-3.4">−2</tspan></text>
<line x1="322.0" y1="617.8" x2="324.4" y2="617.8" stroke="#5a5a5a" stroke-width="0.8"/>
<line x1="537.0" y1="617.8" x2="534.6" y2="617.8" stroke="#5a5a5a" stroke-width="0.8"/>
<text x="318.5" y="621.6" font-size="8" text-anchor="end" fill="#3a3a3a" style="stroke-width:0.1px">10<tspan font-size="6.4" dy="-3.4">−4</tspan></text>
<g clip-path="url(#c21)">
<polyline points="322.4,484.4 322.7,507.6 324.5,512.7 326.0,518.5 327.5,525.4 332.5,525.4 334.0,526.1 347.1,526.8 349.3,528.6 350.0,528.8 350.7,536.0 368.9,536.0 371.1,537.5 537.0,537.5" fill="none" stroke="#EBBA3C" stroke-width="1.3" stroke-linejoin="round" stroke-linecap="round"/>
<polyline points="321.6,482.5 323.8,489.5 325.3,496.7 327.1,500.4 328.2,507.6 329.6,510.5 332.5,512.4 336.2,514.2 339.8,516.4 342.7,521.5 347.1,523.6 350.4,524.6 352.9,528.7 354.4,536.0 355.8,540.4 364.5,540.4 366.0,541.5 376.2,541.8 376.9,544.0 396.5,544.4 398.0,546.2 414.0,546.2 414.7,551.3 419.1,551.3 420.5,552.7 459.0,552.7 460.0,554.0 465.0,556.0 481.0,556.4 482.0,559.0 510.0,559.0 511.0,560.0 528.0,560.0 529.0,561.0 537.0,561.0" fill="none" stroke="#6CC8F0" stroke-width="1.3" stroke-linejoin="round" stroke-linecap="round"/>
<polyline points="322.6,484.0 323.0,500.0 323.4,530.0 324.4,550.5 326.0,564.3 327.1,572.3 329.0,573.0 350.0,573.4 350.7,576.0 350.4,578.0 355.0,578.5 356.0,581.0 368.0,582.0 380.0,583.1 390.9,583.6 396.4,584.5 425.8,584.7 428.0,585.3 448.0,585.6 492.0,586.0 498.0,588.0 520.0,589.0 522.0,590.0 537.0,590.0" fill="none" stroke="#77AC30" stroke-width="1.3" stroke-linejoin="round" stroke-linecap="round"/>
<polyline points="321.6,482.5 324.5,489.5 325.3,494.5 327.5,501.8 327.8,508.4 328.5,538.8 330.0,539.5 330.7,547.5 334.7,550.5 343.5,550.8 344.9,553.0 347.5,553.4 347.8,570.8 358.0,570.8 359.0,581.6 375.0,581.6 375.6,586.4 427.5,586.4 428.0,592.5 465.0,592.5 466.0,595.0 537.0,595.4" fill="none" stroke="#4848AE" stroke-width="1.3" stroke-linejoin="round" stroke-linecap="round"/>
<polyline points="322.6,484.0 322.9,525.0 323.3,533.0 325.3,535.9 326.0,554.1 328.2,557.0 330.4,564.3 337.6,565.0 339.1,566.5 342.0,567.9 351.5,568.6 352.9,571.5 359.0,572.0 361.0,579.0 366.0,580.0 368.0,582.0 374.0,586.0 375.0,591.0 380.0,592.7 399.6,593.2 400.2,602.5 409.5,602.7 411.0,604.4 537.0,604.4" fill="none" stroke="#222222" stroke-width="1.3" stroke-linejoin="round" stroke-linecap="round"/>
<polyline points="321.8,482.5 321.8,562.1 324.5,563.2 326.0,565.7 326.5,580.7 330.8,580.7 331.3,587.5 348.0,588.6 353.0,589.6 353.6,595.0 356.0,597.0 357.0,605.0 359.0,606.0 359.4,613.6 428.0,613.6 428.5,619.1 468.0,619.1 469.0,628.4 473.6,629.0 474.0,652.0 537.0,652.0" fill="none" stroke="#FF1418" stroke-width="1.3" stroke-linejoin="round" stroke-linecap="round"/>
</g>
<rect x="484.4" y="484.6" width="50.0" height="50.4" fill="#fff" stroke="#707070" stroke-width="1.0"/>
<line x1="486.59999999999997" y1="489.2" x2="505.75922330097086" y2="489.2" stroke="#EBBA3C" stroke-width="1.3"/>
<text x="507.3" y="492.1" font-size="6.990291262135923" fill="#222">PSO</text>
<line x1="486.59999999999997" y1="497.5" x2="505.75922330097086" y2="497.5" stroke="#6CC8F0" stroke-width="1.3"/>
<text x="507.3" y="500.4" font-size="6.990291262135923" fill="#222">LO</text>
<line x1="486.59999999999997" y1="505.8" x2="505.75922330097086" y2="505.8" stroke="#77AC30" stroke-width="1.3"/>
<text x="507.3" y="508.7" font-size="6.990291262135923" fill="#222">WOA</text>
<line x1="486.59999999999997" y1="514.0" x2="505.75922330097086" y2="514.0" stroke="#4848AE" stroke-width="1.3"/>
<text x="507.3" y="516.9" font-size="6.990291262135923" fill="#222">DBO</text>
<line x1="486.59999999999997" y1="522.3" x2="505.75922330097086" y2="522.3" stroke="#222222" stroke-width="1.3"/>
<text x="507.3" y="525.2" font-size="6.990291262135923" fill="#222">ALA</text>
<line x1="486.59999999999997" y1="530.6" x2="505.75922330097086" y2="530.6" stroke="#FF1418" stroke-width="1.3"/>
<text x="507.3" y="533.5" font-size="6.990291262135923" fill="#222">MsIALA</text>
<text transform="translate(299.3,567.2) rotate(-90)" font-size="8.7" text-anchor="middle" fill="#222">Best Fitness Value</text>
</svg></body></html>
